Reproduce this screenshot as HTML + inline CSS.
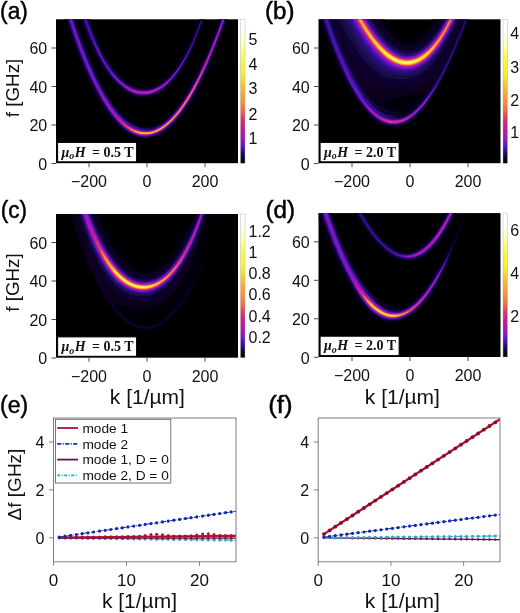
<!DOCTYPE html>
<html><head><meta charset="utf-8"><title>Figure</title><style>html,body{margin:0;padding:0;background:#fff}svg{display:block}</style></head><body>
<svg width="520" height="613" viewBox="0 0 520 613">
<defs><linearGradient id="cb" x1="0" y1="1" x2="0" y2="0"><stop offset="0.000" stop-color="#000000"/><stop offset="0.020" stop-color="#080418"/><stop offset="0.058" stop-color="#18084a"/><stop offset="0.095" stop-color="#3a10a0"/><stop offset="0.120" stop-color="#5a14c0"/><stop offset="0.150" stop-color="#8018c0"/><stop offset="0.180" stop-color="#a018b8"/><stop offset="0.220" stop-color="#b818a0"/><stop offset="0.257" stop-color="#c82088"/><stop offset="0.295" stop-color="#d03070"/><stop offset="0.330" stop-color="#e04860"/><stop offset="0.372" stop-color="#f07040"/><stop offset="0.428" stop-color="#f89038"/><stop offset="0.490" stop-color="#f8a838"/><stop offset="0.552" stop-color="#f8c830"/><stop offset="0.597" stop-color="#f8e030"/><stop offset="0.632" stop-color="#f8f030"/><stop offset="0.730" stop-color="#f8f850"/><stop offset="0.810" stop-color="#ffffa0"/><stop offset="0.900" stop-color="#fffff0"/><stop offset="1.000" stop-color="#ffffff"/></linearGradient><filter id="bl" x="-5%" y="-5%" width="110%" height="110%"><feGaussianBlur stdDeviation="0.55"/></filter></defs>
<rect width="520" height="613" fill="#fff"/>
<clipPath id="cpa"><rect x="56" y="19.3" width="182" height="143.89999999999998"/></clipPath>
<rect x="56" y="19.3" width="182" height="143.89999999999998" fill="#000"/>
<g clip-path="url(#cpa)"><g filter="url(#bl)">
<path fill="#060311" fill-rule="evenodd" d="M63.6,19.3l27.1,0 6,15.9 2.6,6.2 3.4,7.2 3.3,6.4 3.3,5.8 2.7,4.1 3.3,4.5 4,4.7 3.4,3.4 3.2,2.7 3,2 3.9,2 3.4,1.4 3.8,.9 4,.4 2.7-.1 3.1-.6 4.4-1.3 3-1.3 3.3-2.1 2.8-2 3.4-2.9 3.3-3.4 4.7-5.7 3.3-4.7 3.3-5.2 3.4-6 4-8 3.3-7.3 3.3-8.1 3.4-8.9 6.5,0 -6.8,18.7 -5.4,12.8 -3.2,6.7 -2.8,5.3 -2.7,4.7 -3.9,6 -3.4,4.7 -3.3,4 -3.7,4 -3.3,3 -4.7,3.5 -3.3,2 -4,1.8 -4,1.4 -4,.7 -3.4,.2 -4-.2 -4-.6 -4-1.4 -2.6-1.2 -4.7-2.8 -4-2.7 -4-3.4 -3-2.9 -4.7-5.4 -2.7-3.3 -3.9-5.4 -9-14.2 -1.4-1.6 -.1,.4 .1,1.2 2,6.2 3.4,8.6 3.3,7.7 4,7.9 4,7.2 4.7,7.5 4.6,6.6 4,4.6 4,4.1 3.1,2.7 3.9,2.6 5,2.7 3.5,1.3 3.2,.8 4,.4 3.8-.5 3.9-1.3 2.8-1.4 4.2-2.6 3.3-2.7 4-4 4-4.6 2.7-3.4 5.3-7.6 5.3-8.6 5.4-9.6 4.6-9.2 5.4-11.3 6.6-15.3 5.4-13.5 4.1-11.3 9.2,0 -5.7,16.1 -5.4,14 -5.2,12.7 -6.1,14.1 -5.2,10.7 -5.3,10 -4.8,8.1 -4.5,6.7 -5.6,7.3 -4.9,5.4 -5.3,5 -5.3,4 -4.7,2.7 -5.3,2.1 -6,1.4 -3.4,.5 -3.3,.1 -5.3-.8 -4-1.2 -4-2 -6-4 -3.4-2.9 -6.1-6.3 -5-6 -4.6-6.7 -6.6-10.7 -4.1-7.3 -5.1-10.1 -4.9-10.7 -5.4-12.7 -5.1-13.4 -4-11.4z"/>
<path fill="#09041b" fill-rule="evenodd" d="M65.3,19.3l10.3,0 5.1,14.9 5.3,14.6 5.3,13.4 4.7,10.8 4,8.5 6,10.9 5.3,8.6 4.7,6.5 3.3,4 4.6,4.8 3.1,2.7 3.6,2.7 3.5,2 4.5,2 2.2,.7 3.2,.6 3.3,.2 2.8-.1 4.8-1.4 3-1.3 4.4-2.7 3.5-2.7 3.5-3.4 4.7-5.2 3.3-4.2 4.7-6.6 5.3-8.5 5.4-9.5 6-11.8 5.3-11.3 6-13.8 5.3-13.5 4.5-11.9 7.3,0 -6,16.7 -5.4,14.1 -4.6,11.4 -6.2,14 -4.4,9.4 -4.9,9.4 -4.7,8 -5.2,8 -6.1,8.1 -4.8,5.3 -5.5,5.1 -4.6,3.4 -5.4,3.1 -5.3,2.1 -2.7,.6 -3.3,.6 -4.7,.3 -2.6-.2 -2.7-.4 -4.7-1.5 -4-1.9 -5.3-3.6 -4-3.4 -6.6-6.9 -3.8-4.7 -4.7-6.6 -6.5-10.8 -4.1-7.3 -4.7-9.4 -5.2-11.4 -4.8-11.3 -4.7-12.1 -5.3-14.7zM80.6,19.3l8.8,0 3.3,8.9 3.3,8.4 3.3,7.6 4,8.2 3.4,6.1 3.3,5.5 4,5.6 4.7,5.5 5.3,5.1 2.7,2 3.3,2 2.8,1.4 3.9,1.4 3.3,.8 4,.3 4-.4 3.8-.8 3.6-1.3 2.7-1.4 3.2-2 3.5-2.7 3.6-3.3 3.6-3.9 4-5 4-5.8 3.3-5.5 2.7-4.9 3.3-6.6 3.4-7.3 3.3-8 3.8-9.9 4.2,0 -7,19.4 -3.3,8 -3.4,7.4 -3.4,6.7 -3.8,6.7 -3.5,5.3 -3.8,5.4 -4,4.7 -3.8,3.8 -4,3.3 -4,2.7 -4,2.1 -4.7,1.7 -4,.8 -4,.3 -4-.2 -4-.8 -4-1.4 -4.6-2.4 -5.4-3.6 -4-3.4 -4.1-4.3 -4-4.6 -3.5-4.7 -4.1-6 -3.9-6.7 -3.5-6.7 -3.8-8.1 -3.4-8 -3.4-8.7z"/>
<path fill="#0d0528" fill-rule="evenodd" d="M66.2,19.3l8.4,0 4.7,14.1 5.4,14.5 5.3,13.4 5.3,12.2 4.7,9.7 4.7,8.5 5.3,8.6 4.7,6.7 3.3,4.1 4.3,4.6 4.4,4 2.7,2 4.5,2.7 4.7,2 2.3,.7 2.4,.4 3.4,.3 3.3-.2 2.5-.5 2.2-.7 4.4-2 4.3-2.7 3.3-2.7 4-3.9 4-4.6 3.3-4.2 4.7-6.7 5.3-8.6 5.3-9.4 6-11.8 5.4-11.3 5.3-12.1 6-15.1 4.5-12 5.8,0 -6,16.7 -4,10.7 -4.6,11.4 -5.9,14.1 -4.7,10 -4.8,9.4 -5.3,9.4 -4.7,7.3 -5.4,7.4 -5.1,6 -5.8,5.7 -5.3,4.1 -5.4,3.1 -5.3,2.1 -2.7,.7 -3.3,.6 -4,.2 -2,0 -3.3-.6 -4.7-1.4 -4.7-2.3 -4.6-3.1 -4.7-4 -5.5-5.8 -4.8-6 -4.6-6.7 -4.1-6.7 -6-10.7 -4.7-9.4 -4.6-10 -5.4-12.7 -4.6-12.1 -5.3-14.7zM81.7,19.3l6.9,0 3.4,9.2 3.3,8.4 4,9.1 3.4,6.7 3.3,6.1 4,6.5 4,5.5 3.3,3.9 3.4,3.5 3,2.7 2.7,2 3.3,2 4.4,2 3.9,1.2 3.3,.6 2.7,.1 4-.3 4-.9 3.6-1.4 2.7-1.3 4.2-2.7 3.4-2.7 3.4-3.2 3.4-3.7 4-5 3.3-4.8 4-6.6 3.3-6.2 3.4-6.8 3.3-7.4 4-9.9 2.4-6.6 2.9,0 -4.2,12 -3.3,8.7 -3.4,8.1 -2.8,6 -3.8,7.4 -3.5,6 -4,6 -3.4,4.7 -3.5,4 -3.4,3.5 -4,3.4 -4,2.8 -4,2.1 -5.3,2 -3.4,.6 -4,.2 -4-.2 -4-.8 -4.6-1.8 -4-2.1 -4.7-3.3 -4-3.3 -3.7-3.8 -4-4.6 -4-5.4 -4-6 -3.9-6.7 -3.4-6.7 -3.5-7.4 -3.1-7.3 -3.4-8.7z"/>
<path fill="#110636" fill-rule="evenodd" d="M66.9,19.3l7,0 4.8,14.1 5.3,14.5 6,14.9 4.7,10.5 5.3,11 4,7.2 5.3,8.7 4.7,6.6 4,5 4.3,4.5 3.7,3.4 4.6,3.3 3.7,2 5,2.1 3.4,.7 4.6,.3 3.4-.2 4.6-1.3 4.7-2.2 4.2-2.7 3.2-2.7 4.6-4.7 4-4.7 4-5.3 4.7-6.9 4.6-7.7 6-10.8 5.4-10.6 4.6-10 4.7-10.5 5.3-13.2 5.8-15.3 4.6,0 -6,16.7 -4,10.7 -7.3,18.1 -4.1,9.4 -4.8,10 -4.5,8.7 -4.6,8.1 -4.7,7.3 -5.4,7.4 -5.2,6 -5.1,5 -5.3,4.2 -5.4,3.1 -5.3,2.2 -5.3,1.2 -4.7,.3 -4-.4 -2.7-.6 -3.3-1.1 -4-2 -5.3-3.6 -4.7-4.1 -5.2-5.5 -3.8-4.7 -4.8-6.7 -4.5-7.4 -6-10.7 -4.7-9.4 -4.6-10 -4.8-11.4 -5.2-13.4 -4.8-13.3zM82.5,19.3l5.5,0 3.3,9.1 3.4,8.4 4,9 3.3,6.8 3.3,6.2 4,6.5 4,5.5 3.4,4 3.9,4.1 3,2.6 2.7,2.1 3.4,2 2.9,1.3 4.1,1.4 3.3,.8 4,.3 4-.4 3.6-.8 3.8-1.3 4-2 4-2.7 3.3-2.7 3.3-3.2 3.3-3.7 4-5.1 3.4-4.8 4-6.7 2.6-5 4-8.1 3.4-7.6 4-10 2.1-6 2.2,0 -6.6,18.1 -3.3,8 -3.4,7.4 -3.4,6.7 -3.4,6 -3.8,6 -3.3,4.7 -3.3,4 -4.5,4.7 -4,3.5 -4,2.8 -4,2.2 -4.7,1.8 -4,.8 -4,.3 -4-.3 -4-.8 -3.3-1.2 -4-2 -5.3-3.6 -4-3.3 -3.6-3.6 -4-4.6 -4-5.4 -4-6 -3.5-6 -3.9-7.4 -4-8.7 -3.4-8 -3.3-8.7z"/>
<path fill="#160845" fill-rule="evenodd" d="M67.5,19.3l5.9,0 5.3,15.4 4.6,12.7 5.4,13.3 4.6,10.7 4.7,9.8 4,7.5 5.3,9 5.4,7.9 4.6,6 4,4.3 3.4,3.1 5.3,4 3.6,2 4.8,2.1 4.3,1 4.6,.4 4.7-.4 4-1.2 4-2 4-2.5 4-3.4 3.3-3.3 4.7-5.4 4-5.3 5.3-7.9 5.4-8.9 5.3-9.7 5.3-10.5 4.7-10 4.7-10.6 6-14.9 4.9-13.2 3.6,0 -5.4,15.4 -4.1,10.7 -6.7,16.7 -4.6,10.7 -4.7,10.1 -4.8,9.4 -4.6,8 -5.1,8 -5.5,7.4 -5.2,6 -5.2,5 -5.3,4.1 -4.7,2.7 -4.6,2 -5.4,1.3 -5.3,.4 -4.7-.5 -4.6-1.3 -2.7-1.2 -2.7-1.5 -4.6-3.3 -4.7-4.2 -5.1-5.5 -3.8-4.7 -4.7-6.7 -4.1-6.7 -6.7-12 -4.7-9.4 -4.5-10 -4.8-11.4 -4.6-12.1 -5.3-14.7zM83,19.3l4.6,0 3.1,8.6 4,10 3.3,7.6 3.3,6.8 4,7.3 4,6.5 3.4,4.6 3.3,4 3.2,3.5 2.9,2.7 3.4,2.7 3.3,2 4.2,2 4,1.3 3.1,.7 3.9,.2 3.6-.2 3.3-.7 4.1-1.3 4.1-2 4.1-2.7 3.4-2.7 4.1-4 3.3-3.8 3.3-4.2 2.7-3.9 5.3-8.8 4.7-9.1 4.7-10.4 4-10 2.3-6.7 1.7,0 -2.3,6.7 -4,10.7 -3.3,8 -3.4,7.4 -2.7,5.4 -3.3,6 -4.6,7.3 -3.3,4.7 -3.2,4 -4.6,4.9 -4,3.5 -4,2.8 -4.7,2.5 -4,1.5 -3.3,.8 -4.7,.3 -4.6-.3 -3.4-.8 -4-1.5 -3.3-1.8 -5.3-3.6 -3.4-2.8 -3.5-3.5 -4.1-4.6 -4-5.4 -4-6 -2.8-4.7 -3.9-7.4 -3.3-6.7 -4-9.3 -3.4-8.7z"/>
<path fill="#200a5e" fill-rule="evenodd" d="M68,19.3l5,0 4.3,12.8 5.4,14.5 5.3,13.3 5.3,12.2 5.4,11 4.6,8.6 5.4,8.6 4.6,6.7 4.7,5.7 4.1,4.3 4.6,4 3.9,2.7 5.4,2.7 4,1.4 4,.9 5.3,.6 2.1-.2 2.3-.7 3.3-1.3 3.7-2.1 4.8-3.3 4.4-4 4.1-4.5 4-4.9 4-5.5 4.7-7.1 6-10.2 4.6-8.6 5.4-10.8 4.6-10 4-9.3 5.4-13.3 5.3-14.2 2.9,0 -4.5,12.7 -5.3,14.1 -6.8,16.7 -4.6,10.7 -4.8,10.1 -4.5,8.7 -4.1,7.3 -5.2,8 -4.8,6.7 -5.1,6.1 -5.2,5.2 -4.7,3.8 -5.3,3.4 -4.7,2.1 -4.6,1.3 -3.4,.5 -3.3,.2 -2-.1 -3.3-.6 -4-1.3 -4.7-2.3 -4.7-3.2 -4.9-4.4 -5.6-6 -3.7-4.7 -4.7-6.7 -4.8-8 -5.9-10.7 -4.6-9.4 -4.8-10.7 -4.7-11.3 -4.7-12.1 -5.2-14.7zM83.5,19.3l3.7,0 2.8,7.9 4,10.1 3.3,7.6 3.4,6.9 3.3,6.3 4,6.6 3.3,4.8 3.4,4.2 3.3,3.8 3.6,3.4 3.3,2.7 3.1,2 4,2 3.7,1.3 4.3,1 4,.3 4-.3 4.3-1 3.7-1.3 3.8-2 4-2.7 3.2-2.7 3.7-3.5 4-4.6 4-5.3 2.6-4 5.4-9.3 4-8 3.3-7.4 3.3-8.1 3.9-10.7 1.3,0 -3.5,10 -3.3,8.7 -4,9.4 -2.6,5.4 -2.7,5.3 -3.4,6 -4.7,7.4 -3.4,4.7 -3.9,4.7 -3.7,3.7 -4,3.4 -4,2.7 -4.6,2.4 -4,1.5 -4,.7 -3.4,.1 -4-.2 -4.6-1.1 -4-1.6 -3.4-1.9 -4.6-3.3 -3.4-2.8 -3.6-3.6 -4-4.7 -4-5.4 -4-6 -3.5-6 -3.1-6 -4.1-8.7 -3.4-8.1 -3.3-8.7z"/>
<path fill="#2c0d7d" fill-rule="evenodd" d="M68.4,19.3l4.3,0 5.3,15.5 4.7,12.6 4,10 4.6,10.9 4,8.7 4.7,9.2 5.3,9.3 5.3,8.1 4,5.4 3.9,4.7 4.8,4.8 4,3.3 5.4,3.3 4.6,2.1 2,.8 2,.4 .7,.4 1.4,.3 .3,.6 3.6,.3 3.2-.3 4.5-1.3 4.2-2 5.1-3.4 4.6-4 4.4-4.5 4.7-5.6 4-5.5 4.7-7 6-10.1 5.3-10 5.3-10.8 6.7-14.7 3.3-8.1 4.7-11.9 4.2-11.5 2.4,0 -4.2,12 -5.3,14.1 -6,14.7 -5.5,12.7 -4.4,9.4 -4.8,9.4 -4.6,8 -4.6,7.4 -4.8,6.7 -5.7,6.7 -4.7,4.7 -5.3,4.4 -5.4,3.2 -4.6,2.1 -5.4,1.3 -4.6,.4 -4.7-.4 -4.7-1.3 -4.6-2.2 -4.7-3.1 -4.7-4 -4.8-5.1 -5-6.1 -4.6-6.7 -4.5-7.3 -5.9-10.7 -5-10.1 -4.5-10 -4.8-11.4 -4.6-12 -4.5-12.7zM83.9,19.3l2.9,0 3.2,8.9 3.3,8.4 3.4,7.7 3.3,6.9 3.3,6.3 4,6.8 2.7,4 4.7,6 3.6,3.9 3.5,3.3 3.4,2.7 3.3,2 4.2,2 4,1.4 3,.6 4.3,.3 3.9-.3 3.2-.6 4.1-1.4 4.1-2 4.1-2.6 3.3-2.7 4-3.9 3.3-3.7 4-5.2 2.7-3.9 3.3-5.5 3.3-6 3.4-6.8 4.1-9.2 4-10 2.3-6.7 .3-.7 1,0 -6.1,16.7 -3.9,9.4 -3.5,7.4 -3.8,7.3 -2.7,4.7 -3.4,5.4 -3.8,5.3 -3.4,4 -4.5,4.7 -3.3,2.9 -4,2.9 -4.7,2.5 -4,1.5 -3.3,.8 -4.7,.3 -4.6-.4 -3.4-.7 -3.3-1.3 -4-2.1 -4.7-3.2 -4-3.3 -3.8-3.9 -3.9-4.7 -4-5.3 -3.9-6.1 -3.4-6 -3.1-6 -3.5-7.4 -3.4-8 -3.4-8.7z"/>
<path fill="#3a109f" fill-rule="evenodd" d="M68.8,19.3l3.6,0 4.8,14.1 4.7,12.7 5.3,13.4 4.1,9.3 4.7,10.1 4.5,8.7 4.6,8 4.8,7.4 3.9,5.3 4.4,5.4 5.1,5.1 4.7,3.8 4.7,2.8 3.6,1.7 .4,.3 1.3,.3 .7,.7 .3,0 -.4,.7 2.2,.6 3.2,.6 2.7,.2 2-.2 3.3-.6 3.9-1.3 4-2 4-2.7 4.1-3.3 4.7-4.7 4.6-5.5 5.4-7.2 4-6 5.3-9 4.7-8.5 3.3-6.5 4.7-9.7 5.3-11.9 6.7-16.6 5.7-15.5 2.1,0 -6,16.7 -4.7,12.1 -6,14.7 -4.8,10.7 -4.8,10.1 -4.5,8.7 -4.6,8 -4.8,7.3 -5.4,7.4 -4.6,5.4 -5,4.9 -5.3,4.3 -5.3,3.1 -4.7,2 -2.7,.7 -2.6,.5 -4,.3 -4-.2 -2.7-.6 -3.3-1.1 -2-1 -3.4-1.9 -4.6-3.4 -4.7-4.3 -4.9-5.3 -4.2-5.4 -4.5-6.7 -4.1-6.7 -6.5-12 -4.3-8.7 -4.5-10.1 -4.7-11.3 -4.6-12.1 -4.7-13.4zM84.3,19.3l2.1,0 3.4,9.4 2.9,7.1 3.2,7.6 3.4,7.2 3.3,6.2 3.4,5.9 4,6.1 2.7,3.5 3.3,3.9 3.9,4 4,3.4 2.9,2 5.2,2.6 3.7,1.4 2.5,.6 4.5,.6 4-.1 2.7-.5 2.8-.6 3.7-1.4 2.7-1.3 3.3-2 3.6-2.7 3.8-3.5 4-4.3 3.4-4.2 3.3-4.6 3.4-5.5 2.6-4.7 5.4-10.7 5.5-12.7 2.2-6 .2-.5 .3-.2 .4-1.6 .3,.3 -.2,1.3 -.4,.7 -.8,2.7 -.4,.6 -.3,1.4 -.4,.6 -2.2,6.1 -4,9.3 -3.9,8.1 -2.8,5.3 -3.9,6.7 -4.1,6 -3.1,4.1 -3.4,4 -3.7,3.6 -4,3.3 -4,2.7 -4,2 -4,1.4 -4,.8 -4.7,.1 -3.3-.4 -4-.9 -4-1.7 -3.4-1.9 -4.6-3.3 -4-3.6 -4.6-4.8 -3.2-4 -3.8-5.4 -3.4-5.3 -3.4-6 -3.1-6.1 -3.4-7.3 -3.4-8.1 -3.3-8.7zM201.3,20l.4,0 -.4,1.8 -.3-.5zM201.7,19.3l.5,0 -.2,.6zM200.6,22l.1-.2 .3,.2 -.3,1.7 -.4-.4z"/>
<path fill="#4d12b3" fill-rule="evenodd" d="M69.1,19.3l3,0 4.4,12.7 4.6,12.7 5.3,13.4 4.6,10.7 4,8.7 4.8,9.4 4.6,8 6,9.4 4,5.4 3.3,4 5,5 2.8,2.3 -.2,.7 .7-.1 .2,.1 -.3,.7 1.2,0 -.4,.3 -.1,.3 .8,.7 .6,.3 .7-.4 .3,.1 -.6,.7 .9,.6 3.5,2.1 4.4,2 2,.6 3.1,.7 4.4,.3 3.7-.3 4.6-1.3 4.3-2 5-3.4 4.8-4 4.2-4.4 5.4-6.3 4-5.5 4-6.1 4.6-7.7 4.7-8.4 4.7-9.1 6-12.8 4.6-10.8 7.4-18.6 3.6-10 .3-.7 1.8,0 -5.3,14.7 -4.7,12.1 -6,14.7 -4.7,10.7 -4.7,10 -5.2,10.1 -4.2,7.3 -5.1,8.1 -4.9,6.7 -4.4,5.3 -5.9,5.9 -4.6,3.9 -5.4,3.3 -4.6,2.1 -5.4,1.3 -4.6,.5 -2.7-.1 -2-.3 -4.7-1.4 -4.6-2.3 -4.7-3.2 -5.3-4.6 -5.2-5.7 -3.8-4.7 -4.6-6.7 -4.8-8.1 -5.8-10.7 -4.3-8.7 -4.5-10 -4.8-11.4 -4.6-12 -4.5-12.7zM84.7,19.3l1.3,0 2.4,6.7 4,10 4.1,9.4 3.3,6.7 4.7,8.7 3.4,5.4 2.8,3.9 3.2,4.1 3,3.3 3.4,3.4 3.2,2.7 2.8,2 3.6,2 3.1,1.3 4.3,1.4 3.4,.6 4.6,.1 2.7-.3 5-1.1 3.4-1.4 3.8-2 3-2 3.4-2.7 2.8-2.6 3.3-3.5 2.7-3.2 3.9-5.4 3.5-5.3 3.4-6.1 6.1-12 .4-1.1 .3-.2 .3-1.3 .3,.6 -2.2,5.3 -3.2,6.7 -2.7,5.4 -3.9,6.7 -3.9,6 -3.5,4.7 -4.1,4.7 -2.8,2.7 -3.3,2.9 -4.7,3.3 -4,2.2 -3.3,1.3 -2.7,.7 -4.6,.6 -3.4-.1 -4-.6 -4-1.2 -3.3-1.5 -3.3-2 -4.7-3.5 -3.3-3 -3.7-3.8 -3.2-4 -3.4-4.7 -2.7-4 -3.2-5.4 -3.3-6 -3.2-6.7 -6-14.1zM201.3,20.6l0-.2 0,1zM200.6,22.6l.1-.3 0,.9zM199.9,24.7l.1-.5 0,.8zM198.6,28l.1-.3 .1,.3 -.1,.8zM197.8,30l.2-.5 .2,.5 -.2,.6zM197.2,31.3l.1-.1 .2,.1 -.2,1.1 -.1-.4zM196.5,33.4l.2-.5 .2,.5 -.2,.7zM195.9,34.7l.1-.2 .2,.2 -.2,1.1 -.2-.4zM195.1,36.7l.2-.6 .3,.6 -.3,.8 -.2-.1zM194.5,38l.2-.3 .2,.3 -.2,1.1 -.3-.4zM193.9,39.4l.1-.2 .3,.2 -.3,1.4 -.3-.1zM127.5,123l.6,0 -.1,.3zM129.6,124.4l.6,0 -.2,.2zM130.7,125l.7,0 -.1,.2z"/>
<path fill="#6315c0" fill-rule="evenodd" d="M69.5,19.3l2.3,0 .2,.5 4.4,12.9 7.2,19.4 6.7,16.1 3.9,8.7 .5,.6 .2,.7 .4,.6 .2,.7 .5,.7 .1,.7 .5,.6 .2,.7 2.4,4.7 .2,.7 .5,.6 .1,.7 1.7,2.7 .3,.7 .6,.6 1.4,2.7 .6,.7 .2,.6 1,1.4 .2,.7 5.3,8.1 3.4,4.6 3.3,4 4.7,4.7 4.9,4 4.3,2.7 4.3,2 4.4,1.3 5.4,.6 2.7-.1 2.9-.5 4.1-1.3 4-2 5-3.4 4-3.3 4.6-4.7 4-4.7 6-8.1 4-6.1 4.7-7.8 4-7.3 4.7-9.1 4.6-9.9 6.7-15.4 6-15.2 4.4-12.1 .3-.7 1.5,0 -3.8,10.7 -5.3,14.1 -6,14.7 -4.6,10.7 -5.4,11.4 -4.8,9.3 -4.5,8.1 -6,9.3 -5.5,7.4 -4.6,5.4 -4.4,4.2 -5.3,4.3 -5.3,3.3 -4.7,1.9 -5.3,1.3 -4,.3 -4-.3 -2.7-.6 -2.7-.8 -2.6-1.2 -2.7-1.6 -4.7-3.3 -4.6-4.2 -4.9-5.3 -4.7-6.1 -4.1-6 -4.1-6.7 -6.4-12 -4.6-9.4 -4.2-9.4 -4.4-10.7 -4.6-12.1 -4.8-13.3zM87.9,26.7l.1-.4 0,.9zM88.6,28l.2,.7 -.1,.4zM89.2,30l.1-.3 .2,1 -.2,.2zM89.9,31.3l.1,0 .2,.7 0,.7 -.2,.1zM90.4,33.4l.3-.4 .2,1 -.2,.5zM91,34.7l.3-.2 1.1,2.9 .3,.3 .3,1 2.7,6 6.1,12.1 5.3,8.7 2.7,4 2.6,3.3 3.5,4.1 2.6,2.6 5.5,4.8 1.9,1.3 3.5,2 3,1.3 3.9,1.3 2.9,.7 2.8,.3 2.7,.1 3.6-.4 3.1-.7 4-1.3 2.8-1.3 3.4-2 3.7-2.7 2.3-2 5.8-6 2.7-3.4 3.5-4.7 4.6-7.3 1.1-2.2 .6,.2 -4.5,8 -2.6,4 -3.8,5.4 -3.3,4 -3,3.2 -3.4,3.1 -3.3,2.7 -3.3,2.1 -2.7,1.4 -2.7,1.2 -4,1.2 -2.6,.4 -4,.2 -3.4-.3 -3.3-.7 -2.7-.9 -4-1.9 -3.3-2.2 -2.7-1.9 -5.4-5 -5.3-6 -3.4-4.7 -3.2-4.8 -5.3-9.2 -3.4-6.7 -3.3-7.3 -2-4.9 -.3-1.2 -.4-.5zM193.9,40l.1-.1 0,.3zM193.3,41.4l0-.1 0,.4zM191.9,44.7l.1-.5 0,.7zM191.2,46.1l.1-.4 0,.7zM190.5,47.4l.2-.3 .1,.3 -.1,.5zM189.9,48.7l.1-.3 .2,.3 -.2,.7zM189.2,50.1l.1-.3 .2,.3 -.2,.7zM188.5,51.4l.2-.3 .2,.3 -.2,.8 -.2-.1zM187.8,52.8l.2-.4 .2,.4 -.2,.7 -.2-.1zM187.1,54.1l.2-.4 .3,.4 -.3,.8 -.3-.1zM186.4,55.4l.3-.5 .2,.5 -.2,.7 -.6,0zM185.7,56.8l.3-.7 .3,.7 -.3,.6z"/>
<path fill="#7b17c0" fill-rule="evenodd" d="M70.2,19.3l.8,0 6.4,18.1 5.3,14 4,10 5.3,12.4 4,8.4 4,7.9 5.3,8.9 4,6.1 5.4,7.2 3.3,3.9 5,4.8 5,4 4.5,2.7 4.7,2 2.2,.7 3.6,.7 3,.2 3.4-.2 3.1-.7 2.1-.7 4.4-2 4.3-2.7 4.2-3.3 5.2-5 6-7 4-5.5 4-6 6-10 4.6-8.7 4-7.9 5.4-11.5 6-14.1 6-15.4 4.1-11.3 1.2,0 -4.9,14.1 -4.6,12 -6.1,14.7 -4.7,10.7 -4.7,10.1 -5.2,10 -4.6,8 -4.8,7.4 -4.8,6.7 -4.4,5.4 -5.9,5.9 -4.6,3.9 -4,2.6 -5.4,2.6 -4.6,1.4 -3.4,.6 -2.6,.1 -2.7-.1 -2.7-.5 -4.6-1.4 -4-2.1 -4.7-3.2 -4.7-4.1 -5.2-5.7 -3.8-4.7 -4.6-6.7 -4.5-7.4 -5.9-11 -4.6-9.5 -4.1-8.9 -4.6-11.2 -4.7-12.3 -5.3-15.2zM183.2,61.5l.1-.2 0,.4zM182.5,62.8l.2-.4 .1,.4 -.1,.2zM181.9,63.5l.2,0 -.1,.7zM181.2,64.8l.1-.3 .2,.3 -.2,.3zM180.6,65.5l.2,0 -.1,.8 -.3-.1zM107.2,66.8l.1-.1 0,.4zM179.8,66.8l.2-.3 .2,.3 -.2,.5zM179.3,67.5l.4,0 -.4,.9 -.3-.2zM107.9,68.2l.1-.5 .1,.5 -.1,.1zM108.5,68.8l.2-.2 0,.6zM178.4,68.8l.3-.4 .3,.4 -2.2,3.4 -4.7,6 -4.8,5 -4.6,3.9 -5.4,3.5 -4.6,2 -2,.7 -2.7,.5 -3.3,.4 -4.7-.2 -4-.8 -4.7-1.8 -4-2.3 -5.3-4 -3.8-3.6 -4.2-4.7 -2-2.6 -1.7-2.7 .4-.3 4.2,5 5.1,5.1 3.6,2.9 3.1,2.1 5.1,2.6 3.8,1.3 4.4,1 4.7,.3 4.7-.6 4.8-1.3 4.4-2 3.3-2 3.6-2.7 4.5-4.1 4.2-4.6zM109.1,69.5l.2,0 .3,.7 -.3,.1zM109.8,70.8l.2-.3 .2,.3 -.2,.4z"/>
<path fill="#9318bb" fill-rule="evenodd" d="M222.9,19.3l1,0 -.1,.7 -8.1,22.1 -7.9,19.4 -4.8,10.7 -3.8,8 -6.7,12.7 -6,10.1 -6.1,8.7 -2.6,3.3 -4.7,5.4 -3.8,3.7 -4,3.4 -2.6,1.9 -3.4,2 -3.3,1.5 -3.3,1.2 -3.4,.8 -3.3,.4 -2.7,0 -3.3-.4 -2.7-.7 -3.3-1.3 -2.7-1.3 -3.3-2.2 -3.3-2.6 -2.7-2.4 -5-5.4 -3.3-4 -3.9-5.3 -2.7-4.1 -5.8-10.1 -8-16 .7-.1 3,6.2 3.3,6 6.3,10 4.7,6.7 4,5.2 2.7,3.1 4.6,4.4 4,3.4 3,2 3.7,2 5.2,2 3,.7 4.5,.4 4-.3 3.3-.8 3.5-1.3 3.8-2 3.9-2.7 4.8-4 3.4-3.4 4.6-5.4 4-5.2 3.4-4.8 4.6-7.4 5.4-9.3 3.3-6.4 4.7-9.5 4.6-10.1 7.4-17.6zM177.3,70.8l0-.1 0,.2zM89.9,71.5l.1-.5 0,.9zM176.6,71.5l.2,0 -.1,.2zM90.5,72.8l.2-.4 0,1.2zM175.8,72.8l.2-.4 .1,.4zM175.1,73.5l.2-.3 .2,.3 -.2,.3zM91.2,74.2l.1-.3 .3,1 -.3,.1zM174.5,74.2l.2-.3 .2,.3 -.2,.4zM173.9,74.9l.1-.2 .4,.2 -.3,.6 -4.7,5.4 -4.2,4 -3.9,3 -3.3,2.1 -4,1.9 -4,1.4 -4,.6 -4,.1 -4-.6 -3.3-.8 -3.4-1.5 -3.3-1.8 -4.2-3.1 -3.8-3.3 -3.1-3.4 .4-.2 4.7,4 3.3,2.5 3.4,1.9 2.6,1.2 3.7,1.3 3.7,1 3.3,.4 4,0 4.2-.7 2.5-.7 3.6-1.3 3.7-1.9 4-2.7 3.3-2.7 3.6-3.4zM91.8,75.5l.2-.2 .3,.9 -.3,.3zM92.4,76.9l.3-.2 .2,.8 -.2,.5zM115.2,77.5l.1-.1 .2,.1zM92.9,78.2l.4-.2 .3,.9 -.3,.6zM115.8,78.2l.2-.2 .2,.2 -.2,.2zM116.4,78.9l.3-.3 .2,.3 -.2,.4z"/>
<path fill="#a918af" fill-rule="evenodd" d="M223,19.3l.8,0 -.2,.7 -5.3,14.7 -4.6,12 -8.7,20.8 -6.6,14 -6.1,11.4 -3.9,6.7 -3.4,5.4 -5.3,7.3 -3.2,4 -4.2,4.7 -6.3,5.7 -2.7,2 -3.3,2.1 -2.7,1.4 -3.3,1.3 -4.7,1.2 -2.6,.3 -3.4,0 -2.6-.2 -2.7-.6 -4-1.5 -2.7-1.4 -2.6-1.7 -4-3.1 -2.7-2.4 -5.3-5.7 -4.2-5.4 -4.6-6.7 -3.9-6.7 .7-.1 5.2,7.5 4.1,5.3 4,4.7 3.5,3.4 3.8,3.3 3.9,2.7 3.6,2 4.9,2 2.6,.7 5.7,.6 4-.3 3.9-1 4.7-2 3.4-2 5.3-4 4.7-4.5 2.7-2.9 3.3-4 4-5.3 3.3-4.9 5.4-8.6 7.3-13.4 6.7-13.8 5.4-12.2 8-20.1zM170.6,78.9l.2,0 -.1,.1zM169.9,79.5l.1-.1 .2,.1 -.2,.3zM169.2,80.2l.1-.2 .3,.2 -.3,.3zM168.5,80.9l.2-.2 .3,.2 -.3,.3zM167.7,81.5l.3-.2 .4,.2 -.4,.4zM167,82.2l.3-.3 .4,.3 -4.4,4 -5.3,3.6 -2.7,1.4 -3.3,1.3 -2.7,.7 -3.3,.5 -4.7,0 -3.3-.5 -2.7-.7 -3.3-1.3 -2.7-1.4 -2.3-1.6 -2.6-2 .3-.3 .6,.2 6,3.1 5.4,1.8 4.6,.8 5.4-.1 4.3-.8 2.3-.6 3.4-1.4 4.6-2.5zM123,84.9l.4,0 -.1,.2zM123.7,85.6l.3-.2 .3,.2 -.3,.2zM103.8,98.9l.2-.4 .2,.4 -.2,.7z"/>
<path fill="#bc1a9a" fill-rule="evenodd" d="M223.1,19.3l.5,0 -.3,1.1 -.2-.4zM222.7,20.6l.2,.7 -.2,1 -.3-.3zM221.9,22.6l.1-.1 .2,.1 .1,.7 -.3,.8 -.2-.1 -.1-.7zM221.2,24.7l.1-.4 .3,.4 -.3,1.3 -.3-.7zM220.4,26.7l.3-.6 .3,.6 -.3,1.1 -.3-.5zM219.9,28l.4,0 0,.7 -.3,1 -.3-.4zM219.2,30l.1-.3 .4,.3 -.3,1.3 -.4,.7 -.3,1.3 -.2,.1 -.3,1.3 -.5,.7 -.3,1.3 -.9,2 -1.6,4.7 -.4,.7 -.9,2.6 -.4,.7 -4.3,10.7 -6.5,14.7 -8,16.1 -6.6,11.4 -3.4,5.3 -3.3,4.7 -6,7.4 -5.8,5.9 -2.6,2.4 -4,2.9 -3.4,2 -2.6,1.4 -3.4,1.2 -2.6,.7 -3.4,.6 -3.3,.1 -2-.1 -3.3-.7 -4-1.3 -2.7-1.4 -3.3-2.1 -2.7-2 -5.4-4.9 -6.6-7.9 -3.3-4.7 -.3-.8 .3-.2 4.5,5.5 3,3.4 4.3,4 3.3,2.7 2.9,2 3.6,2 2.9,1.3 4.1,1.4 3.6,.6 4.4,.2 2.7-.3 4.5-1.2 3.2-1.3 3.6-2 4.7-3.4 3.7-3.3 6.3-6.7 3.3-4.1 3.4-4.6 5.3-8.1 7.3-12.7 7.4-14.7 6.1-13.4 5.3-12.7 1.7-4.7 .5-.7 .8-2.6 .5-.7 .8-2.7 .3-.5 .3-.2zM163.1,85.6l.4,0 -.2,.1zM162,86.2l.7-.2 .1,.2 -2.8,2.1 -4.7,2.6 -4.6,1.8 -2,.4 -2.7,.3 -2.7,.1 -2.6-.1 -4.7-.9 -4-1.6 -3.4-2 .1-.3 .6,.1 4.7,1.8 4.7,1.2 4,.4 3.3-.1 2.7-.3 2.6-.6 4-1.3 4-1.9zM109.9,108.3l.1-.2 .2,.2 -.2,.3z"/>
<path fill="#cb277e" fill-rule="evenodd" d="M222.6,21.3l.1-.1 0,.4zM221.9,23.3l.1-.3 0,.6zM221.3,25.3l0-.5 0,.7zM220.6,26.7l.1-.2 0,.9zM219.9,28.7l.1-.3 0,.8zM219.2,30.7l.1-.6 0,.9zM218.6,32l.1-.1 0,1zM217.9,34l.1-.3 .2,.3 -.2,.7zM217.3,35.4l.2,.6 -.2,.4 -.1-.4zM216.5,37.4l.2-.3 .1,.3 -.1,.8zM215.8,39.4l.2-.6 .2,.6 -.2,.6zM215.2,40.7l.1-.2 .2,.2 -.2,1 -.2-.3zM214.5,42.7l.2-.5 .2,.5 -.2,.8zM213.9,44.1l.1-.3 .2,.3 -.2,1 -.2-.4zM213.1,46.1l.2-.6 .3,.6 -.3,.8zM212.5,47.4l.2-.3 .2,.3 -.2,1.1 -.3-.4zM212,48.7l.3,.7 -.3,.8 -.2-.1 0-.7zM211.1,50.8l.2-.4 .3,.4 -.3,1 -.2-.4zM210.6,52.1l.1-.2 .2,.2 0,.7 -.2,.7 -.3-.7zM209.8,54.1l.2-.5 .3,.5 -.3,1 -.3-.3zM209.1,55.4l.2-.3 .4,.3 -.1,.7 -.3,.6 -.2,.1 -.3,1.3 -1,2 -.2,.7 -1.4,3.3 -5.2,11.4 -6,12.1 -3.3,6 -4,6.7 -4,6 -3.3,4.7 -5.5,6.7 -5.6,5.7 -4,3.4 -2,1.5 -5.3,3.1 -5.3,2.1 -2.7,.7 -4,.4 -2.7,0 -3.3-.4 -4.7-1.4 -2.6-1.3 -3.4-2 -5.6-4.5 -2.7-2.6 -2.2-2.7 -.4-.7 .3-.2 7.6,6.2 5.4,3.4 4.6,2 5,1.3 4.7,.4 4.5-.4 2.6-.6 3.6-1.4 2.7-1.3 3.3-2 2.7-2 3.2-2.7 4.7-4.7 4-4.6 2.7-3.4 6-8.7 5.3-8.7 6.7-12.3 6.1-12.5 3-6.7 .5-.6zM154.9,90.2l1.1,0 -.7,.2zM133.1,90.9l1.3,0 -.4,.2zM152.9,90.9l1.1-.2 .6,.2 -1.3,.3 -.3,.4 -2.3,.8 -2.7,.5 -2.7,.3 -5.8-.3 -3.1-.6 -.4-.3 -1.6-.4 .3-.4 2.1,.4 .5,.3 4,.5 3.4,.1 4.6-.6 3.4-.8zM117.9,118.4l.2,0 -.1,.1z"/>
<path fill="#db4165" fill-rule="evenodd" d="M211.9,49.4l.1-.2 0,.4zM210.6,52.8l.1-.3 0,.5zM209.9,54.1l.1-.2 0,.7zM208.5,57.5l.2-.5 .1,.5 -.1,.4zM207.9,58.8l.1-.3 .2,.3 -.2,.7zM207.2,60.1l.1-.1 .2,.1 -.2,1 -.2-.3zM206.7,61.5l.2,.6 -.2,.5 -.3-.5zM205.8,63.5l.2-.5 .2,.5 -.2,.7zM205.1,64.8l.2-.4 .3,.4 -.3,.9 -.2-.2zM204.5,66.2l.2-.4 .2,.4 -.2,1 -.3-.4zM203.9,67.5l.1-.2 .3,.2 -.3,1.2 -.3-.5zM203.3,68.8l0-.1 .4,.1 -.4,1.4 -3,6.7 -4,8 -5.9,10.7 -5.5,8.7 -5.2,7.4 -6.2,7.3 -4.2,4.2 -3.3,2.9 -2.7,2 -3.3,2.1 -2.7,1.4 -4.6,1.7 -4.7,1 -3.3,.1 -2.7-.1 -4-.8 -2-.7 -4-1.9 -2.7-1.7 -2.8-2.1 -2.3-2.1 -1.9-2 .4-.2 5.3,3.8 3.2,1.8 2.8,1.3 3.6,1.4 2.6,.6 3.8,.5 2,.1 2.7-.2 2.6-.4 2.4-.6 4.8-2 3.4-2 5.4-4.1 4.7-4.4 2.7-2.9 3.3-4 4.1-5.4 6.6-10 4.7-8.1 6.7-12.7zM121.8,122.4l.3,0 -.1,.2z"/>
<path fill="#f07040" fill-rule="evenodd" d="M203.9,68.2l.1-.5 0,.7zM203.2,69.5l.1-.4 .2,.4 -.2,.3zM202.5,70.8l.2-.3 .1,.3 -.1,.5zM201.8,72.2l.2-.4 .2,.4 -.2,.6zM201.2,73.5l.1-.3 .2,.3 -.2,.7zM200.5,74.9l.2-.4 .2,.4 -.2,.7 -.2-.1zM199.8,76.2l.2-.3 .2,.3 -.2,.8 -.2-.1zM199.1,77.5l.2-.3 .3,.3 -.3,.9 -.2-.2zM198.5,78.9l.2-.4 .3,.4 -.3,.9 -.3-.3zM197.8,80.2l.2-.4 .3,.4 -.3,.9 -.3-.2zM197.1,81.5l.2-.4 .4,.4 -.2,.7 -6.5,12.1 -5.3,8.7 -4.7,6.7 -4.7,6 -5,5.4 -4.6,4.3 -4.7,3.4 -4.7,2.6 -3.3,1.4 -2,.6 -4,.7 -4.7,.1 -2-.2 -2.6-.5 -4-1.5 -4-2.2 -3.6-2.7 .2-.4 .7,.2 5.5,2.8 3.8,1.5 2,.6 4,.6 2.7,.1 3.3-.3 2.7-.5 2.2-.6 4.5-2 3.5-2 4.5-3.4 3.7-3.3 5-5.4 3.4-4 3.9-5.4 4.1-6 6-10 3.2-5.9 .2-.1 .2-.7 .6-.7zM126.4,126.4l.3-.2 .3,.2 -.3,.2z"/>
<path fill="#f89138" fill-rule="evenodd" d="M197.9,80.2l.2,0 -.1,.5zM197.2,81.5l.1-.1 .2,.1 -.2,.6zM196.5,82.9l.2-.2 .1,.2 -.1,.5zM195.8,84.2l.2-.3 .2,.3 -.2,.5zM195.1,85.6l.2-.4 .2,.4 -.2,.4zM194.4,86.9l.3-.5 .2,.5 -.2,.4zM194,87.6l.2,.6 -.2,.3 -.2-.3zM193.2,88.9l.1-.2 .3,.2 -.3,.9 -.2-.2zM192.5,90.2l.2-.3 .2,.3 -.2,.8 -.3-.1zM191.7,91.6l.3-.5 .3,.5 -.3,.6zM191.3,92.3l.2,0 .1,.6 -.3,.5 -.3-.5zM190.5,93.6l.2-.2 .3,.2 -.1,.7 -5.4,8.7 -4.6,6.7 -4.8,6 -4.1,4.5 -4,3.8 -4,3.3 -3.3,2.1 -3.4,1.8 -4,1.6 -2,.6 -3.3,.6 -3.3,.1 -3.4-.3 -4.6-1.2 -3.4-1.5 -3.2-2 .6-.3 4,1.7 4,1.3 4,.7 3.3,.2 3.3-.3 3.2-.7 3.5-1.2 4-1.9 3.3-2.1 4.4-3.5 4.3-4.1 4.2-4.6 3.3-4 3.4-4.7 5.4-8 .2-.7 1.8-2.6zM129.3,128.4l.7,0 0,.4z"/>
<path fill="#f8ab37" fill-rule="evenodd" d="M191.9,91.6l.1-.2 0,.4zM191.2,92.9l.1-.3 0,.5zM190.6,94.3l.1-.7 0,.7zM189.9,94.9l.1-.1 .2,.1 -.2,.4zM189.2,96.3l.1-.4 .2,.4 -.2,.2zM188.7,96.9l0,.8 -.2-.1zM187.9,98.3l.1-.2 .2,.2 -.2,.4zM187.1,99.6l.2-.4 .2,.4 -.2,.2zM186.6,100.3l.1-.2 .1,.2 -.1,.6zM185.8,101.6l.2-.3 .2,.3 -.2,.3zM185.2,102.3l.3,0 -.2,.7zM184.5,103.6l.2-.3 .2,.3 -.2,.3zM183.9,104.3l.1-.1 .2,.1 -.2,.7zM183.1,105.6l.2-.4 .2,.4 -.2,.3zM182.5,106.3l.2-.2 .2,.2 -.2,.6zM181.7,107.6l.3-.5 .2,.5 -.2,.3zM181.1,108.3l.2-.3 .3,.3 -.3,.4zM180.6,109l.1-.2 .2,.2 -.2,.7 -.3,0zM179.7,110.3l.3-.5 .2,.5 -.2,.3zM179.1,111l.2-.3 .3,.3 -.3,.4zM178.5,111.7l.2-.2 .3,.2 -.3,.6 -.7,.9 -.4-.2zM177,113.7l.3-.5 .3,.5 -.3,.3zM176.4,114.3l.3-.3 .3,.3 -.3,.4zM175.8,115l.2-.2 .4,.2 -.4,.6zM175.2,115.7l.1-.2 .5,.2 -1.8,2.2 -.6-.2zM172.8,118.4l.5-.6 .3,.6 -2,2 -3.6,3.5 -3.3,2.7 -5.4,3.4 -2.6,1.4 -3.4,1.2 -2.6,.7 -2.7,.5 -4.7,.1 -4.5-.8 -2.1-.7 -2.9-1.3 .2-.5 4.7,1.4 3.3,.6 3.3,.2 4.7-.3 4.7-1.2 3.3-1.5 5.3-3.1 2.7-2 3.3-2.9zM132.6,130.4l.7-.1 .5,.1 -.5,.2z"/>
<path fill="#f8d230" fill-rule="evenodd" d="M171.9,119.7l.1-.1 .1,.1zM171.2,120.4l.1-.2 .1,.2zM170.5,121l.2-.1 .1,.1zM169.8,121.7l.2-.1 .1,.1zM169.2,122.4l.1-.2 .1,.2zM166.6,124.4l.3,0 -.2,.2zM165.8,125l.2-.1 .2,.1 -.2,.2zM165,125.7l.3-.2 .2,.2zM163.9,126.4l.7,0 -.6,.2zM163,127.1l.3-.2 .3,.2 -.3,.1zM161.9,127.7l.8-.2 .1,.2 -.8,.2zM160.9,128.4l.4-.2 .4,.2 -.4,.2zM159.7,129.1l.3-.2 .7,0 0,.2 -.7,.2zM158.4,129.7l.9-.2 .2,.2 -.8,.3zM157.1,130.4l.9-.2 .3,.2 -1,.3zM155.5,131.1l1.2-.3 .2,.3 -.9,.2zM153.6,131.7l1.1-.2 .6,.2 -1.3,.3zM137.5,132.4l1.2-.1 1,.1 .3,.3 5.3,.3 5.4-.3 .3-.3 1.7-.3 .6,0 .2,.3 -2.2,.4 -.2,.3 -.4,.1 -5.4,.6 -5.3-.6 -.4-.1 -.3-.4z"/>
</g></g>
<clipPath id="cpb"><rect x="318.5" y="19.3" width="182.0" height="143.89999999999998"/></clipPath>
<rect x="318.5" y="19.3" width="182.0" height="143.89999999999998" fill="#000"/>
<g clip-path="url(#cpb)"><g filter="url(#bl)">
<path fill="#060311" fill-rule="evenodd" d="M318.9,19.3l65.9,0 3,4.4 3.4,4.2 3,3.4 3,2.7 2.6,2 2.7,1.4 2.7,.9 2.6,.3 3.4-.3 2.6-.8 2.9-1.5 2.8-2 3-2.6 3.3-3.7 3.4-4.1 3-4.3 37.5,0 -6.2,16.1 -4.6,11.3 -4.6,10.8 -5,10.7 -5.7,11.3 -6.2,11.4 -4,6.7 -4,6 -4.6,6.1 -4.3,4.7 -4.7,4.3 -4.6,3.4 -4.7,2.7 -4.7,1.9 -2.6,.8 -2.7,.4 -4,.3 -2.7-.1 -2.6-.5 -4.7-1.5 -5.3-2.7 -4-2.7 -4.7-4.1 -5.8-6.3 -3.9-4.7 -3.9-5.3 -3.4-5.4 -4.7-8 -4.5-8.7 -4.8-10 -5.4-12.8 -4.5-11.3 -3.5-9.4z"/>
<path fill="#09041b" fill-rule="evenodd" d="M320.6,19.3l59.1,0 4.1,6.2 3.4,4.4 4,4.7 3.4,3.4 3.5,2.7 3.5,2 2.9,1 3.3,.5 3.4-.3 3.3-.9 3.3-1.7 4-2.9 4-3.7 4-4.5 4-5.3 3.7-5.6 30.8,0 -10.1,26.1 -4.6,10.7 -4.9,10.7 -4.6,9.4 -7.1,13.4 -4.3,7.3 -4,6.1 -4,5.3 -4.2,4.7 -4.7,4.5 -4,3 -4.6,2.9 -4.7,2.1 -4.7,1.2 -4.6,.4 -4-.3 -2.7-.6 -2.7-.8 -5.3-2.6 -4-2.7 -4-3.3 -3.7-3.8 -5.2-6 -5.4-7.4 -4.7-7.3 -3.4-6.1 -4.5-8.7 -4.7-10 -5.4-12.7 -4-10.1 -4.7-12.7zM420.5,93.6l-13.3,1.9 -6,1.2 -6.2,1.6 -7.2,2.1 -3,1.2 -1.1,.7 -.6,.7 -.3,.6 0,.7 .7,1.3 1.2,1.4 1.9,1.3 2.7,1.4 1.9,.6 3.1,.7 6.2,.1 .7,.3 .1,.3 -1.5,1 -2.3,1 -.4,.6 1.4,.2 2.7-.1 3.8-.7 3.4-2 3.5-2.7 3.9-4 2.7-3.3 2.7-4.1 .6-1.3 .4-1.4 0-.6 -.4-.6z"/>
<path fill="#0d0528" fill-rule="evenodd" d="M321.6,19.3l54.6,0 5,7.4 4,5.4 4,4.7 4,4 4,3.2 3.6,2.1 3.7,1.3 3.3,.4 4-.4 4-1.3 3.9-2 3.6-2.7 4.5-4.3 4-4.5 4-5.3 5.3-8 26.5,0 -9.4,24.1 -5.4,12.7 -4.5,10.1 -5.4,10.7 -6.7,12.7 -4,6.7 -3.9,6 -4,5.3 -4.1,4.7 -4.4,4.2 -4.6,3.7 -4,2.5 -4.7,2.1 -2,.7 -2.7,.5 -4.6,.4 -4-.3 -4.7-1.3 -4.7-2.1 -3.3-2.1 -2-1.4 -4-3.5 -3.8-4 -5.1-6.1 -4.8-6.7 -3.9-6 -4.2-7.3 -4.4-8.7 -4.7-10.1 -4.9-11.4 -4.5-11.3 -4.6-12.8zM433.2,76.8l-5.4,4 -2.6,1.7 -4,1.9 -4,1.4 -5.4,1.4 -6.6,1.3 -8,1.1 -6,.6 -6,0 -5.4-.5 -4-1.6 -3.3-1.7 -9.3-5.8 -1.4-.4 -.6,.4 -.1,.9 .7,2.7 .7,1.5 2,3.8 1.3,2.1 4.7,6 4.4,4.7 2.2,2 2.6,2 3.2,2 2.8,1.4 3.9,1.3 3.1,.7 5.1,.6 -3.3,1 -4.6,.4 -.3,.6 1.8,.7 1.8,.3 2,.3 2,0 7.3-.8 1.3-.5 3.3-2 2.7-2 5.4-5.1 3.3-3.9 3.3-4.4 2.7-4 3.3-5.5 3.4-6.5 1.2-3.4 .1-.9 -.7-.1z"/>
<path fill="#110636" fill-rule="evenodd" d="M322.3,19.3l51.1,0 4.4,6.7 5.4,7.2 4,4.8 4.6,4.7 4.2,3.4 3.8,2.2 4,1.5 4,.6 4-.4 2.4-.6 2.3-.9 4.4-2.4 4.3-3.4 4.6-4.4 4.7-5.5 4.7-6.7 4.2-6.8 16.1,0 -6.6,15.4 -6.8,14 -3.3,6.1 -2.9,4.7 -2.8,4 -3.3,4.1 -2.6,2.9 -3.4,3.2 -2.6,2.1 -3.4,2.1 -4,1.9 -3.3,1.3 -4.7,1.2 -4.6,.9 -5.4,.4 -4,.1 -4.6-.1 -3.4-.4 -4-.8 -4-1.2 -4.6-2.8 -3.4-2.5 -3.3-2.8 -6.8-6.9 -3.4-4.1 -4.7-6 -11.1-15.5 -2-2.1 -.6,.2 -.1,.7 .7,3.1 2,6.2 3.3,8.6 4,9.1 4,8 4,7.3 4,6.4 3.4,4.8 3.3,4.1 3.8,4 2.8,2.6 3.4,2.7 3.2,2 4.1,2 4.7,1.5 2.8,.5 -1.5,.5 -3.3-.1 -3.3-.7 -4.3-1.7 -1.1-.1 .8,.8 3.2,2 2.9,1.3 1.9,.7 3.2,.8 4.7,.3 6,0 1.8-.4 2.9-1.4 3.1-2 4.1-3.3 3.4-3.4 4-4.6 4-5.2 3.4-4.8 4-6.3 7.3-12.7 5.3-11.3 8-18 6-14 3.4-9.4 3.9,0 -4.2,11.4 -5.4,13.4 -4.5,10.7 -5.6,12 -4.6,9.4 -7.2,13.4 -4,6.7 -4,6 -4.1,5.3 -4.3,4.9 -4.7,4.4 -4,3 -4.7,2.9 -4.6,1.9 -3.4,.8 -4.6,.4 -4-.4 -4.7-1.3 -4.7-2.2 -4-2.6 -4-3.3 -4.4-4.4 -6-7.4 -3.9-5.4 -4.6-7.3 -4.2-7.4 -4.7-9.3 -4.6-10.1 -5.3-12.7 -3.9-10 -4.1-11.4z"/>
<path fill="#160845" fill-rule="evenodd" d="M322.9,19.3l7,0 3.9,11.4 4,10.6 4.7,11.4 3.3,7.5 4,8.2 4,7.6 4,6.9 5.3,8 2.1,2.8 3.8,4.6 3.3,3.3 2.9,2.7 2.6,2.1 3.4,2.2 4,2 1.2,.4 .1,.2 1.8,.5 -.5,.1 -1.3-.1 -4-1.4 -4.7-2.5 -5.3-3.8 -.6,.3 2.6,2.7 4,3.3 3,2 2.5,1.4 3.2,1.3 2.3,.7 3.7,.7 4.6,.4 1.4,.6 3-.4 3.6-1.3 4.6-2.7 3.4-2.7 3.6-3.3 3.8-4.1 5.3-6.6 3.3-4.7 6.7-10.1 3.3-5.5 2-3.8 6-12.1 6.7-14.7 5.3-12.6 4.9-12.8 .4-.7 1.9,0 -9.5,24.1 -6,14.1 -4.7,10 -4,8 -6.5,12.1 -4.8,8 -4,6 -4.6,6 -4.2,4.7 -4.2,4 -4,3.1 -4,2.5 -4.7,2.1 -3.3,.9 -2.7,.4 -2.6,.1 -2.7-.1 -2-.4 -4.7-1.5 -4-2 -4.6-3.1 -4-3.5 -4.3-4.5 -5.4-6.7 -4.7-6.7 -4.5-7.3 -4-7.4 -4.7-9.4 -4.2-9.3 -3.9-9.4 -4.7-12 -4.1-11.4zM371.8,103.5l-.3,.1 .3,.5 .2-.5zM338.5,19.3l32.7,0 5.3,8 6,8 4.7,5.4 4,3.8 4,3.2 4,2.4 4,1.6 2,.4 2.6,.3 4.7-.5 2-.6 3.1-1.2 4.5-2.7 4.4-3.6 4.7-4.7 4.6-5.7 4.7-7 4.2-7.1 13,0 -6.9,14.7 -4.5,8.7 -4.2,7.4 -2.5,4 -3.2,4.7 -3.7,4.7 -3.5,3.8 -3.4,3.1 -2.6,2 -3.4,2.1 -4,1.9 -4,1.3 -3.3,.8 -4,.5 -4.7,.2 -4.6-.2 -4.7-.7 -4-1 -4-1.4 -2.7-1.3 -2.5-1.8 -3.5-2.7 -3.3-3.1 -4-4.2 -3.9-4.7 -3.6-4.7 -4.2-6 -3.9-6 -4-6.7z"/>
<path fill="#200a5e" fill-rule="evenodd" d="M323.4,19.3l5.6,0 3.5,9.9 4.7,12.2 3.3,8 4.7,10.6 4.6,9.5 5.1,9.4 4,6.7 5,7.3 .4,.7 -.5,.2 -2-2.3 -.1,.1 .1,.8 2.7,4.1 2,2.6 4.6,5.2 3.4,3.3 3.3,2.7 4.1,2.7 4.4,2 5.5,1.5 3.3,.5 -1.5,.7 -.8,.7 3,.2 3-.2 3-.7 2-.7 4.2-2 3.2-2 4.1-3.3 4.5-4.5 5.4-6.3 4-5.3 3.3-4.7 4.7-7.3 2.6-4.5 4-7.6 4.7-9.6 6-13.2 6.7-16 4.2-11.4 1.4,0 -5.9,15.4 -4.7,11.4 -4,9.3 -4.6,10.1 -4.7,9.4 -5.4,10 -4.7,8 -5.3,8.1 -4,5.3 -4.7,5.4 -3.6,3.5 -4.7,3.7 -4,2.5 -4.7,2.2 -4,1 -4.6,.4 -4-.3 -4.7-1.4 -2.7-1.2 -2.6-1.5 -4.7-3.3 -3.9-3.6 -3.7-4 -5.4-6.7 -4.6-6.7 -4.1-6.7 -4.1-7.4 -4.6-9.4 -3.9-8.7 -3.4-8 -5.2-13.4 -4.1-11.4zM343.4,19.3l26,0 5.8,8.7 5.3,7.1 4.7,5.6 4.8,4.7 4,3.3 4.5,2.8 2.7,1.1 2,.6 2.6,.5 2,.2 4.7-.5 4.7-1.6 4.3-2.4 5-4 4.7-4.7 5.3-6.7 4-6 5.1-8.7 11,0 -3.7,8 -4.1,8.1 -6.5,11.3 -2.6,4.1 -3.4,4.6 -3.8,4.8 -3.3,3.6 -3.4,3.2 -2.6,2.1 -3.4,2.1 -3.3,1.7 -2.7,1.1 -4,1.1 -4.6,.6 -2.7,.1 -4-.2 -4-.5 -4.7-1.1 -3.3-1.3 -3.3-1.5 -3.4-1.9 -3.1-2.5 -2.9-2.6 -3.3-3.4 -3.5-4 -3.6-4.7 -3.9-5.4 -8-12.7 -4.2-7.3zM364.3,94.3l.2-.5 .2,.5 -.2,.2zM365,94.9l.2-.2 .1,.2 -.1,.3zM365.6,95.6l.2-.2 .2,.2 -.2,.3zM366.2,96.3l.4,0 -.1,.4zM366.9,96.9l.3,0 .2,.7 -.3,0zM367.8,98.3l0-.4 .3,.4zM368.4,98.9l.1-.3 .2,.3 -.2,.2zM369,99.6l.2-.2 .2,.2 -.2,.2zM369.7,100.3l.1-.2 .2,.2 -.2,.1zM370.4,101l.1-.2 .2,.2 -.2,.1zM371,101.6l.2-.2 .2,.2zM371.7,102.3l.1-.2 .2,.2z"/>
<path fill="#2c0d7d" fill-rule="evenodd" d="M323.9,19.3l4.5,0 5.8,16.1 4,10 7.3,16.7 1.7,3.3 .2,.8 .4,.6 .2,.7 .5,.6 .1,.7 .6,.7 .1,.7 .5,.6 .1,.7 .6,.7 0,.6 .5,.7 .2,1.4 .5,.6 .1,.7 .5,.7 .2,.7 4,7.3 3.3,5.4 4,6 2.7,3.4 4.8,5.3 3.6,3.3 3.4,2.7 2.2,1.5 4,2.1 3.3,1.3 4.3,1.1 -2.3,.4 -2.6-.4 -1.6,0 .9,.3 .5,.4 2.2,.7 3.1,.6 2.9,.2 2.6-.2 5.4-1.3 4.5-2 4.2-2.7 4-3.3 5.3-5.4 4-4.7 4-5.3 3.3-4.8 4.7-7.3 2.6-4.6 5.4-10.2 6-12.6 4.7-10.7 4.7-11.4 1-2.7 .4-.7 2.2-6 .4-.7 .4-1.3 .4-.7 .1-.6 .3-.7 .7,0 -.7,1.9 -.2,.1 -.3,1.3 -.4,.7 -.8,2.7 -.5,.7 -.8,2.6 -.4,.7 -.4,1.3 -.4,.7 -.1,.7 -4.1,10 -6,14.1 -4.7,10 -3.3,6.7 -6.5,12.1 -4.7,8 -4,6 -4,5.4 -4.6,5.3 -4.4,4.4 -4,3.3 -5.4,3.4 -4.6,2 -3.4,.9 -4.6,.4 -2.7-.2 -2-.3 -4-1.3 -2-.9 -3.3-1.9 -4-2.8 -4-3.5 -3.9-4.1 -5.8-7.4 -3.3-4.7 -4.6-7.4 -4.1-7.3 -4-8 -4.6-10.1 -3.9-9.4 -4.7-12 -4.1-11.4zM347.1,19.3l20.9,0 5.2,8 5.3,7.2 5.3,6.4 5.2,5.2 4.9,4 4.6,2.7 4.7,1.7 2,.4 2.6,.1 4.7-.5 2-.5 3.1-1.2 4.5-2.7 5.1-4.2 4.6-4.8 4.7-5.9 4.7-7.1 5-8.8 9.7,0 -3.2,6.7 -3.8,7.4 -6.1,10.7 -2.6,4 -3.3,4.7 -3.3,4 -3.1,3.5 -2.7,2.6 -3.3,2.9 -3.3,2.3 -3.4,1.8 -3.3,1.5 -4,1.2 -3.3,.5 -3.4,.2 -3.3-.2 -3.3-.4 -4-1 -3.4-1.1 -4-1.8 -4-2.4 -2-1.3 -3.3-3 -3.3-3.4 -3.5-3.9 -3.7-4.7 -3.8-5.4 -4-6 -4-6.7z"/>
<path fill="#3a109f" fill-rule="evenodd" d="M324.4,19.3l3.2,0 6.9,19.4 8,19.4 4,8.8 4,8 4,7.3 4,6.7 6.4,9.4 3.4,4 4.2,4.3 4.7,4 2.6,1.9 4,2.2 1,.3 .4,.4 1.2,.3 -.6,.2 -.6,0 -2-.7 -4-1.9 -2.7-1.7 -.7-.1 0,.2 3.2,2.6 2.1,1.4 2.6,1.3 3.5,1.4 4,.9 3.3,.3 3.3-.3 4.5-.9 3.5-1.4 4.7-2.7 3.5-2.6 4.5-4.1 4-4.4 4-4.9 4-5.4 4-6 4.1-6.7 4-7.4 5.4-10.7 .2-.6 .5-.7 2.9-6.7 .5-.7 .1-.6 .6-.7 .4-1.3 .3,.6 -.2,.7 -.5,.7 -.1,.6 -.5,.7 -.1,.7 -.5,.6 -.1,.7 -1.5,3.4 -.5,.6 -.1,.7 -.5,.7 -.1,.6 -.5,.7 -.2,.7 -1.9,4 -4.7,9.4 -4.8,8.7 -3.9,6.7 -3.9,6 -3.4,4.7 -3.8,4.6 -4.5,4.9 -4,3.6 -4.7,3.4 -3.3,1.9 -4.7,1.9 -3.3,.8 -4.7,.2 -2-.1 -2-.4 -3.3-1 -4.7-2.2 -4-2.6 -4-3.4 -4.2-4.3 -5.5-6.7 -3.3-4.7 -3.9-6 -3.5-6 -3.9-7.4 -3.9-8 -3.8-8.7 -4.1-10 -4.6-12.1zM349.8,19.3l17.1,0 5.6,8.7 5.3,7.2 5.4,6.4 5.1,5.1 5,4.1 4.5,2.6 3.2,1.4 2.2,.6 2.6,.4 2,.1 4.7-.5 2.2-.6 3.2-1.4 4.5-2.6 4.8-4.1 4.6-4.7 4.7-5.9 5.3-8.1 5-8.7 8.5,0 -6.3,12.7 -6.1,10.7 -2.6,4 -3.4,4.7 -3.2,4 -3,3.4 -2.9,2.7 -3.3,2.8 -3.3,2.3 -3.4,1.8 -3.3,1.4 -2.7,.7 -2.6,.6 -4,.3 -4-.2 -3.4-.5 -3.3-.9 -3.3-1.2 -3.4-1.6 -3.3-1.9 -4-2.9 -2-1.7 -3.7-3.7 -3.5-4 -6.6-8.7 -6.5-10.1zM465.7,20l.1-.3 0,1zM465,22l.2-.5 .1,.5 -.1,.5zM464.4,23.3l.2,0 -.1,1 -.2-.3zM463.7,25.3l.1-.3 .2,.3 -.2,.8zM463.2,26.7l.1,.6 -.1,.4 -.2-.4zM462.3,28.7l.2-.3 .2,.3 -.2,.8 -.2-.2zM461.6,30.7l.2-.7 .2,.7 -.2,.5zM461,32l.2-.3 .1,.3 -.1,.9 -.2-.2zM460.3,34l.2-.6 .2,.6 -.2,.6zM459.7,35.4l.1-.4 .2,.4 -.2,.9 -.2-.3zM459.1,36.7l.3,.7 -.2,.5 -.3-.5zM458.3,38.7l.2-.4 .2,.4 -.2,.9 -.2-.2zM457.7,40l.1-.1 .2,.1 0,.7 -.2,.5 -.3-.5zM456.9,42.1l.3-.6 .2,.6 -.2,.8 -.3-.2zM456.3,43.4l.2-.4 .2,.4 -.2,1.1 -.3-.4zM455.8,44.7l0-.1 .2,.1 .1,.7 -.3,.7 -.3-.7zM454.9,46.7l.3-.5 .2,.5 -.2,1 -.4-.3zM454.3,48.1l.2-.4 .3,.4 -.3,1.1 -.4-.5zM453.7,49.4l.1-.2 .3,.2 0,.7 -.3,.7 -.4,0z"/>
<path fill="#4d12b3" fill-rule="evenodd" d="M325.3,19.3l1.5,0 4.8,13.4 4.7,12 6,14.1 4.7,10 5.2,10.1 3.4,6 3.3,5.3 4.5,6.7 -.2,.5 -1.4-1.4 -.2,.3 .2,.6 3.4,4.9 5.9,6.5 5.3,4.7 2.8,2 2.2,1.3 2.8,1.4 3.9,1.3 3.7,.7 4,.2 2.7-.3 4.8-1.2 3.1-1.4 3.6-2 5.2-4 4-3.8 3.3-3.6 3.3-4.1 4-5.4 4-5.9 5.3-8.7 .6,0 -.9,2 -3.4,6.1 -5.8,9.3 -5.3,7.4 -3.4,4 -3.1,3.2 -2.6,2.6 -3.4,2.8 -2.6,1.9 -3.4,2 -2.6,1.3 -3.4,1.1 -3.3,.7 -2.7,.2 -2.6-.1 -2.7-.5 -2.7-.7 -3.3-1.4 -5.3-3.3 -2.7-2 -3.3-3.1 -4.8-5.4 -4.2-5.3 -3.3-4.7 -5.3-8.7 -5.8-10.9 -6-13.1 -4.6-11.5 -5.4-14.6zM361.2,95.3l0,.5 .1-.2zM351.7,19.3l14.4,0 5.1,8 5.3,7.4 6,7.2 5.5,5.5 5,4 4.5,2.7 3.2,1.3 2.3,.7 2.8,.4 2,.1 4.5-.5 4.2-1.3 3.8-2 3.8-2.7 2.4-2 3.3-3.3 5.4-6.2 6-8.7 3.3-5.6 2.7-5 7.6,0 -6.7,13.4 -5.8,10 -5.6,8.1 -3.3,4 -2.9,3.2 -3.3,3.2 -2.7,2.1 -2.7,1.8 -4,2.2 -2.6,1.1 -3.4,1 -2.6,.5 -4,.2 -3.4-.2 -3.3-.6 -3.3-1 -3.4-1.2 -2.6-1.3 -3.4-2 -3.3-2.4 -3.3-2.8 -3.7-3.8 -3.5-4 -6.6-8.7 -6-9.4zM455.8,45.4l0-.2 0,.4zM453.7,50.1l.1-.3 0,.5zM453.1,51.4l.1-.2 0,.6zM451.7,54.8l.1-.6 0,.7zM451,56.1l.2-.4 0,.7zM450.4,57.5l.1-.4 .1,.4 -.1,.3zM449.7,58.8l.1-.3 .2,.3 -.2,.6zM449.1,60.1l.1-.2 .1,.2 -.1,.8zM448.4,61.5l.1-.2 .1,.2 -.1,.8 -.2-.2zM447.8,62.8l.1,0 -.1,.9 -.2-.2zM447.1,64.1l.2,.7 -.1,.3 -.2-.3zM446.5,65.5l.2,.7 -.2,.3 -.2-.3zM445.6,67.5l.2-.7 .2,.7 -.2,.3zM444.9,68.8l.3-.6 .1,.6 -.1,.4zM444.5,69.5l.2,.7 -.2,.3 -.2-.3zM443.8,70.8l.2,.7 -.2,.4 -.2-.4zM443.1,72.2l.2,0 0,.6 -.1,.4 -.3-.4zM442.4,73.5l.1-.1 .2,.1 -.2,1 -.3-.3zM441.7,74.9l.1-.3 .3,.3 -.3,.9 -.2-.3zM441,76.2l.2-.3 .2,.3 -.2,.8 -.3-.1zM440.3,77.5l.2-.4 .3,.4 -.3,.8 -.3-.1zM439.5,78.9l.3-.5 .3,.5 -.3,.6zM363.4,97.6l.4-.1 0,.6zM365.7,100.3l.1-.1 .1,.1 -.1,.2zM366.3,101l.3,0 -.1,.3zM366.9,101.6l.3,0 0,.5zM367.5,102.3l.3-.1 1.1,1.4 -.4,.1zM369,104.3l.2-.5 .4,.5 -.4,.1zM369.7,105l.1-.4 .4,.4 -.4,.1zM370.3,105.6l.2-.3 .4,.3 -.4,.2zM371,106.3l.2-.4 .4,.4 -.4,.2zM371.7,107l.1-.4 .5,.4zM372.5,107.6l0-.3 .7,.3 0,.3zM373.4,108.3l.5,0 -.1,.2zM374.2,109l.4,0 -.1,.2z"/>
<path fill="#6315c0" fill-rule="evenodd" d="M353,19.3l12.4,0 5.1,8.1 5.3,7.4 6,7.3 5.3,5.3 5.9,4.7 4.6,2.7 3.3,1.3 2.3,.6 4,.5 4.5-.4 4.4-1.4 4-2 3.9-2.6 3.1-2.7 2.7-2.7 5.4-6.2 3.3-4.6 3.3-5.1 3.4-5.6 2.4-4.6 6.7,0 -6,12 -6.1,10.8 -2.7,4 -3.4,4.7 -5.6,6.5 -3.3,3.1 -2.7,2.2 -4,2.6 -2.7,1.3 -3.3,1.3 -2.7,.7 -2.6,.5 -3.4,.2 -3.3-.3 -3.3-.5 -4-1.2 -3.4-1.4 -2.6-1.4 -3.4-2.1 -3.3-2.6 -2.7-2.3 -6.2-6.6 -6.7-8.7 -6.2-9.4zM343.1,65.5l.1-.2 .2,.9 -.2,.1zM343.6,66.8l.2-.3 8,15 4.6,8.1 4.7,7.3 4.1,5.5 4,4.5 2.8,2.8 3.8,3.3 2.8,2 4.8,2.7 3.5,1.3 2.8,.7 4.8,.5 4.9-.5 2.6-.7 3.5-1.3 2.6-1.4 3.2-2 2.6-2 3.7-3.3 5.6-6 3.3-4.1 3.4-4.6 5.5-8.1 1.1-2 .2,.7 -5.9,10 -3.2,4.7 -3.5,4.7 -5.9,6.7 -5.7,5.1 -2.7,2 -3.3,2.1 -2.7,1.3 -3.3,1.3 -2.7,.6 -3.3,.4 -2.7,0 -2.6-.3 -2.7-.8 -3.3-1.3 -2.7-1.4 -3.3-2.2 -3.4-2.6 -2.3-2.2 -2.5-2.7 -2.9-3.3 -6.4-8.7 -3.4-5.4 -3.1-5.4 -3.4-6.3 -3.3-7 -2.7-6.2zM439.8,78.9l0-.2 0,.3zM439,80.2l.2-.3 0,.5zM438.3,81.5l.2-.5 .1,.5 -.1,.2zM437.7,82.2l.1-.2 .2,.2 -.2,.8 -.2-.1zM436.9,83.6l.3-.4 .2,.4 -.2,.6z"/>
<path fill="#7b17c0" fill-rule="evenodd" d="M354,19.3l10.8,0 5,8 6.7,9.2 5.3,6.3 5.3,5.3 6,4.7 4.7,2.6 4.7,1.7 2,.4 2.7,.2 4-.4 4.4-1.2 4.2-2 4.8-3.3 3.1-2.7 2.8-2.8 3.3-3.8 2.7-3.4 3.3-4.8 3.4-5.3 4.8-8.7 5.9,0 -5.7,11.4 -6.1,10.7 -2.6,4 -3.4,4.7 -5.6,6.5 -3.3,3.2 -2.7,2.1 -2.7,1.8 -2.6,1.5 -3.4,1.5 -3.3,1 -3.3,.6 -2.7,.1 -2.7-.1 -4-.6 -4-1.1 -3.3-1.4 -2.7-1.4 -3.3-2.2 -3.3-2.5 -2.7-2.4 -3.3-3.3 -3-3.3 -6.7-8.7 -6.6-10.1zM352.4,84.9l.1-.4 0,.6zM436.4,84.9l.1-.2 0,.3zM353,85.6l.2-.1 .2,.7 -.2,.3zM353.6,86.9l.2-.3 5.9,9 5.4,7.4 5.1,5.3 4.4,4 4.5,3.4 2.3,1.3 2.8,1.4 4.2,1.3 4.8,.7 4-.1 3.2-.6 2.3-.7 4.6-2 2.3-1.3 2.9-2 4-3.4 4-4 6.7-8 4.9-6.7 .4-.8 .4,.1 -.2,.7 -3.9,6 -3.3,4.7 -2.7,3.3 -5,5.5 -4.6,4.3 -2.7,2 -4,2.6 -4.7,2.1 -2,.7 -3.3,.6 -4.7,.2 -2-.2 -2.6-.7 -4.7-1.9 -4.7-2.8 -2.6-2 -2.7-2.3 -5-5.4 -5.1-6.7 -5.2-7.9 -2.7-4.7zM435,86.9l.2-.2 .1,.2 -.1,.4zM434.3,88.2l.2-.4 .2,.4 -.2,.3zM433.7,88.9l.1-.2 .3,.2 -.3,.8 -.3-.1zM432.9,90.2l.3-.4 .2,.4 -.2,.6z"/>
<path fill="#9318bb" fill-rule="evenodd" d="M354.7,19.3l9.5,0 5.6,8.8 5.4,7.4 5.3,6.6 5.9,6 5.9,4.7 4.5,2.6 3.2,1.4 2.2,.7 3,.5 2,.1 2-.1 3.3-.5 4.2-1.4 3.9-2 4.6-3.3 3-2.7 3-3 2.6-3.1 2.7-3.4 3.3-4.7 3.4-5.3 5.2-9.3 5.2,0 -6.1,12 -5.4,9.4 -2.6,4 -3.4,4.7 -3.2,4 -2.5,2.7 -3.2,3.1 -2.7,2.2 -2.7,1.8 -3.3,1.8 -3.3,1.4 -2.7,.8 -2.7,.5 -3.3,.2 -3.3-.2 -3.4-.6 -2.6-.8 -3.4-1.2 -4-2.1 -2.6-1.8 -3.4-2.5 -3.3-3 -2.9-2.9 -3.6-4.1 -6.6-8.7 -6.5-10zM431.7,92.3l.1-.2 .2,.2 -.2,.2zM431,93.6l.2-.5 .1,.5 -.1,.1zM430.3,94.3l.2-.3 .2,.3 -.2,.4zM429.8,94.9l.2,0 -.2,.9 -.3-.2zM428.9,96.3l.3-.4 .2,.4 -.2,.5zM428.3,96.9l.2-.2 .4,.2 -.3,.7 -3.3,4.7 -3.2,4 -4.4,4.7 -4.5,4.2 -4.7,3.4 -4,2.2 -4.7,1.8 -4,.7 -4,.1 -4-.7 -4-1.5 -4.6-2.5 -4-3 -3.7-3.4 -3.7-4 -3.9-5.3 .6-.1 5.2,5.4 4.5,4 3.5,2.7 3.2,2 2.7,1.4 3.8,1.3 3.2,.7 1.9,.2 4.7-.1 4-.8 3.8-1.3 3.8-2.1 3.1-2 4-3.3 4.8-4.7 4.6-5.3zM362.5,101l0-.4 .1,.4zM363,101.6l.2-.3 .2,.3 -.2,.3zM363.6,102.3l.2-.2 .2,.2 -.2,.6z"/>
<path fill="#a918af" fill-rule="evenodd" d="M355.4,19.3l8.3,0 5.5,8.6 5.3,7.5 6,7.3 6,6 6,4.7 4.7,2.7 3.5,1.4 2.5,.6 4,.4 4.6-.4 2.4-.6 3.4-1.4 4.6-2.7 4.3-3.3 2.9-2.7 3.1-3.3 5.3-6.7 5.4-8.1 5.5-10 4.5,0 -5.7,11.4 -3.4,6 -3.3,5.4 -5.2,7.3 -2.7,3.4 -3.1,3.3 -2.6,2.6 -2.7,2.2 -3.3,2.2 -2.7,1.4 -2.7,1.2 -2.6,.8 -3.4,.7 -3.3,.1 -3.3-.2 -3.4-.6 -2.6-.8 -3.4-1.3 -3.3-1.7 -3.3-2.2 -2.7-2.1 -3.3-2.9 -2.8-2.7 -3.6-4.1 -6.7-8.7 -6.5-10zM427.7,98.3l.1-.2 0,.3zM427.1,98.9l.1-.1 .1,.1 -.1,.3zM426.3,100.3l.2-.6 .1,.6zM425.6,101l.2-.4 .2,.4 -.2,.2zM424.9,101.6l.3-.3 .2,.3 -.2,.5zM424.4,102.3l.1-.2 .4,.2 -.3,.7 -5.1,6 -4.3,4.3 -4,3.3 -4,2.6 -4.7,2.3 -4,1.2 -3.3,.4 -2.7,.1 -3.3-.4 -4-1.2 -3.4-1.6 -3.3-2 -3.8-3 -3.5-3.3 -3.4-4.1 0-.1 .7,.1 4.4,4.1 4.3,3.3 3.2,2 2.7,1.4 3.5,1.3 2.8,.7 3.8,.4 3.3-.1 2.8-.3 4.5-1.4 4-1.9 3.4-2.1 3.3-2.5 3.1-2.8 5.2-5.4z"/>
<path fill="#bc1a9a" fill-rule="evenodd" d="M356.1,19.3l7.1,0 7.3,11.4 6,8 3.3,3.9 3.3,3.5 2.8,2.6 3.2,2.7 4.7,3.4 3.9,2 4.8,1.6 2.2,.4 2.5,.1 2.8-.1 2.5-.5 4.6-1.5 2.7-1.4 2.1-1.3 5.2-4 5.4-5.4 2.7-3.2 2.6-3.5 6-9.2 5.3-9.5 3.7,0 -5.4,10.7 -6.6,11.4 -5.1,7.3 -2.7,3.4 -3.2,3.5 -2.6,2.5 -2.7,2.2 -3.3,2.3 -3.4,1.8 -3.3,1.3 -2.7,.6 -2,.4 -3.3,.1 -3.3-.2 -3.4-.6 -2.6-.8 -3.4-1.4 -2.6-1.4 -3.4-2.1 -3.3-2.6 -2.7-2.4 -6.2-6.6 -3.3-4 -3.5-4.7 -6.6-10zM421.8,105.6l.1,0 -.1,.2zM419.6,108.3l.2-.3 .1,.3zM418.7,109l.5-.5 0,.6zM417.9,109.7l.6-.6 0,.7zM417.1,110.3l.7-.6 .2,.6 -2.8,2.7 -3.4,2.8 -5.3,3.6 -2.7,1.4 -3.3,1.2 -2.7,.6 -2.6,.3 -2.7,.1 -2.7-.3 -2.6-.6 -3.4-1.3 -2.6-1.4 -3.4-2.2 -2.7-2.2 -2.1-2 .2-.6 4,2.9 2.7,1.7 2.6,1.4 3.3,1.3 2.5,.7 3.5,.6 4,.1 4-.7 2.7-.7 4.6-2 3.4-2 2.7-1.9zM372.4,112.3l.1-.2 .6,.2z"/>
<path fill="#cb277e" fill-rule="evenodd" d="M356.7,19.3l5.9,0 7.2,11.3 6,8 6,6.9 3.4,3.2 3.1,2.7 4.7,3.4 2.2,1.3 2.9,1.4 4,1.3 2.4,.4 2.7,.2 2-.1 3.4-.5 2.3-.7 3.2-1.3 4.6-2.7 5-4 2.8-2.7 3.3-3.7 5.4-6.9 6-9.5 4.2-8 3,0 -6.1,12 -5.5,9.4 -5.2,7.4 -2.6,3.3 -3.7,4 -2.8,2.7 -2.7,2.2 -3.3,2.1 -2.7,1.4 -3.3,1.3 -2.7,.7 -2.6,.4 -2.7,.1 -3.3-.2 -2.7-.5 -3.3-1 -3.4-1.4 -2.6-1.4 -3.4-2.2 -5.7-4.8 -5.7-6.1 -2.8-3.3 -4-5.4 -6.7-10zM411,115.7l.5,0 -.3,.2zM410,116.3l.5-.2 .2,.2 -.2,.2zM378.3,117l.2-.1 .6,.1zM408.8,117l.4-.2 .6,.2 -.6,.3zM379.1,117.7l.1-.5 4.6,2.1 4,1.2 3.4,.6 3.3,.2 2.7-.2 3.3-.6 4-1.3 3.3-1.7 .7-.2 .3,.4 -3.6,2.2 -3.4,1.4 -2,.7 -2.6,.5 -3.4,.3 -3.3-.2 -3.3-.8 -4.7-2z"/>
<path fill="#db4165" fill-rule="evenodd" d="M357.3,19.3l4.8,0 6.4,10.1 3.3,4.8 4,5.2 6,6.7 5.8,5.3 4.6,3.4 4.8,2.7 3.5,1.3 2,.5 2,.3 2.7,.2 4.6-.4 2.3-.6 3.6-1.3 4.7-2.7 2.7-2 3.2-2.7 2.9-2.8 3.3-3.8 4.7-6.1 6-9.5 4.6-8.6 2.3,0 -5.4,10.7 -5.9,10 -2.7,4.1 -3.4,4.6 -5.2,6.1 -5,4.5 -2.7,1.8 -3.3,1.9 -3.3,1.5 -2,.6 -3.4,.6 -2.6,.2 -2.7-.1 -3.3-.5 -2.7-.8 -3.3-1.2 -2.7-1.4 -3.3-2 -2.7-2 -4-3.5 -3.6-3.6 -3-3.4 -5.7-7.4 -6.7-10zM403.7,119.7l.8-.2 .5,.2 -1.2,.3zM384.4,120.4l.1-.3 .7,.1 4.6,1 4,.3 4.7-.3 4.7-1.1 .4,.3 -1.8,.7 -2.6,.8 -2.7,.5 -2.7,.1 -2.6-.1 -2.7-.5z"/>
<path fill="#f07040" fill-rule="evenodd" d="M357.9,19.3l3.7,0 6.2,9.9 6.7,9.2 6.1,7 3.3,3.3 3.1,2.7 5.5,4 5,2.7 4.3,1.4 3.3,.6 2.1,.1 2.1-.1 3.2-.5 4.7-1.5 2.6-1.3 3.2-2 5.1-4 3.1-3.1 3.3-3.6 4.7-6.2 5.5-8.6 5.4-10 1.6,0 -5,10 -5.8,10.1 -2.7,4 -3.4,4.7 -5.2,6 -3.1,3 -2.7,2.2 -2.6,1.8 -2.7,1.5 -2.7,1.2 -2.6,.8 -3.4,.7 -2.6,.1 -3.4-.1 -3.3-.6 -2.7-.8 -3.3-1.4 -2.7-1.4 -2.6-1.8 -2.7-2 -3.3-2.9 -6.1-6.3 -6.3-8.1 -6.7-10zM389,121.7l.8-.1 2.2,.1 -1.5,.2z"/>
<path fill="#f89138" fill-rule="evenodd" d="M358.4,19.3l2.6,0 6.8,10.6 6,8.3 6.2,7.2 3.4,3.3 3,2.7 5.4,4 4.8,2.7 3.6,1.4 2.3,.6 4.7,.5 4.6-.5 2.6-.6 3.5-1.4 2.6-1.3 3.1-2 5.6-4.6 4.6-4.9 4.7-5.9 6.2-9.4 3.4-6 2.4-4.7 .9,0 -5.5,10.7 -5.8,10 -5.7,8.1 -2.8,3.3 -2.4,2.7 -4.7,4.3 -3.3,2.3 -3.4,1.8 -2.6,1.1 -2.7,.8 -2.7,.5 -2.6,.2 -2.7-.2 -3.3-.5 -2.7-.7 -3.3-1.4 -5.4-3 -2.6-1.9 -3.8-3.3 -3.3-3.3 -3-3.4 -6.3-8 -6.6-10.1z"/>
<path fill="#f8ab37" fill-rule="evenodd" d="M359,19.3l1.5,0 6.4,10 5.3,7.4 6.1,7.4 5.3,5.3 4.7,4 5,3.4 2.5,1.3 3.3,1.4 4.1,1 2,.3 2.6,.1 2.7-.2 2.7-.5 4-1.4 2.8-1.3 2.2-1.4 4.5-3.3 5.1-4.7 3-3.4 2.7-3.3 4-5.4 .3-.7 .5,.1 -1.1,2.1 -3.3,5.2 -5,6.7 -4.8,5.4 -4.9,4.1 -4.7,2.9 -2.7,1.2 -2.6,.9 -2.7,.5 -2.7,.3 -2.6-.1 -2.7-.3 -2.7-.6 -3.3-1.2 -5.3-2.8 -4.7-3.4 -5.3-4.9 -5.8-6.7 -5-6.7 -5.3-8zM442.3,34.7l.2-.3 .2,.3 -.2,.5z"/>
<path fill="#f8d230" fill-rule="evenodd" d="M364.4,27.3l.1-.1 0,.3zM365.1,28l.3,.7 -.2,.1zM365.6,29.3l.2-.3 .2,.3 -.2,.7zM365.9,30l.6-.1 5,6.8 6.2,7.4 3.8,4 3.7,3.3 4.4,3.4 4.2,2.7 4.2,2 3.8,1.1 4,.6 4-.1 4-.8 4-1.4 3.4-1.7 3.3-2.3 4.3-3.5 5-4.8 .4,.1 -.4,.8 -2.6,3.4 -5.1,5.2 -3.6,2.9 -4.7,2.8 -3.3,1.3 -4.7,1.1 -4,.1 -4.6-.6 -4-1.3 -2.7-1.2 -2.7-1.5 -4-2.8 -4-3.5 -4.6-4.8 -4.7-5.7 -4-5.6zM434.4,46.1l.1-.2 .2,.2 -.2,.3z"/>
<path fill="#f8f238" fill-rule="evenodd" d="M376.4,44.1l.1-.2 .1,.2 -.1,.1zM377,44.7l.2-.1 .1,.1 -.1,.4zM377.5,45.4l.3-.2 4.4,4.2 4.3,3.6 6,4.2 3.3,1.7 2,.9 3.4,1.1 2.6,.5 2.7,.3 2.7-.1 3.3-.5 2.7-.8 3.3-1.3 2.7-1.4 2-1.2 5.3-3.9 .2,.3 -2.5,2.6 -3.1,2.7 -3.3,2.2 -3.7,1.8 -2.9,1 -3.4,.7 -3.3,.1 -3.3-.3 -3.4-.7 -3.3-1.2 -3.1-1.6 -3.3-2 -3.4-2.7 -3.6-3.3 -5.3-6z"/>
<path fill="#fafa64" fill-rule="evenodd" d="M387,54.8l.2-.3 .6,.3 4.7,3 4,2 4,1.4 3.3,.7 3.4,.2 4-.3 3.3-.8 5.3-1.9 .3,.4 -3.5,2 -4.1,1.3 -4.7,.7 -2,0 -2.6-.3 -2.1-.4 -2.2-.7 -4.5-2 -4.3-2.6zM420.2,58.8l.3-.1 .7,.1 -.7,.2z"/>
</g></g>
<clipPath id="cpc"><rect x="56" y="214" width="182" height="143.7"/></clipPath>
<rect x="56" y="214" width="182" height="143.7" fill="#000"/>
<g clip-path="url(#cpc)"><g filter="url(#bl)">
<path fill="#060311" fill-rule="evenodd" d="M69.9,214l30.6,0 5.5,12.4 4,8.2 6.7,11.3 5.3,7.8 5.3,6.2 2.4,2.2 2.3,1.9 2.2,1.5 2.5,1.3 2.6,.9 2.7,.6 4,0 3.3-.5 2.7-.6 2.7-1.1 2.6-1.4 2.8-1.9 3.2-2.7 3.4-3.4 3.3-3.9 2.7-3.4 2.6-3.8 3.4-5.4 6.6-12.2 6.6-14 21.8,0 -3.5,10 -4.9,12.7 -.6,2.2 -3.2,12.5 -4.8,17.6 -.3,1.8 .2,.7 1.4-1.6 2-3.2 4.7-8.8 5.3-11.7 6.7-15.4 .2,.6 0,.6 -3.4,9.4 -5.8,14.7 -4.7,10.7 -4.8,10 -4.5,8.7 -4.6,8 -4.7,7.4 -4.8,6.7 -4.4,5.3 -5.2,5.3 -4.7,3.9 -4.6,3.1 -4,2 -4.7,1.6 -4,.7 -3.3,.1 -2.7-.2 -4-.8 -5.3-2 -4.7-2.7 -5.3-4 -5.2-5 -4.6-5.3 -4-5.4 -4-6 -4.6-8 -4.6-8.7 -4.8-10 -4-9.4 -4.5-11.3 -4.7-12.7 -4.1-12.1zM171.3,308.1l-6.6,3 -4,1.5 -6,1.8 -6.7,1.7 -10.7-.1 -5.3,.1 -2.7,.5 -.7,.3 -.2,.7 .2,.7 1,1.3 2.4,2 3.5,2 3.6,1.3 3.4,.7 2.8,.1 2.2-.1 4-.7 3.9-1.3 2.7-1.3 3.2-2 2.6-2 4.2-4 3.2-4 .8-1.4 0-.7 -.1-.1zM217.3,229.4l.2,.6 -.2,.8 -.4-.1z"/>
<path fill="#09041b" fill-rule="evenodd" d="M71,214l25.5,0 3.5,8.7 5.3,11 4,7.7 2.7,4.4 4.7,7.1 4.6,6.2 2.7,3.1 3.3,3.3 2.7,2.3 2.7,1.8 2.6,1.5 2.7,1.1 2.7,.6 3.3,.3 2.7-.1 4.6-.7 2.7-.9 3.3-1.5 3-1.8 3.5-2.6 3.5-3.3 3.4-3.6 4-4.8 2.6-3.8 3.4-5.2 3.3-5.7 6-11.7 5.7-13.4 12.4,0 -12.4,36.8 -4,10.7 -4,9.3 -4.1,8 -4.2,6.7 -2.4,3.4 -2.8,3.3 -4.5,4.7 -5,3.9 -5.4,3.2 -5.3,2.3 -6,1.8 -3.3,.2 -6-.3 -5.4-.5 -4.6-.7 -4-.9 -4-1.2 -7.4-3.2 -.6-.1 -.2,.2 .3,1.3 1.9,3.3 4,5.3 2,2.3 5.4,5.1 2.6,2 4.5,2.7 4.9,2 2.8,.7 3.8,.3 4.8-.3 3-.7 3.7-1.3 4.9-2.7 3-2 3.2-2.7 6.7-6.6 6-7.5 6-8.7 5.3-8.6 7.4-13.4 6.6-13.3 0-.2 .4,.2 -.3,1.3 -2.1,4.7 -4.9,10.7 -4.1,8 -5.3,9.4 -4.7,7.3 -5.3,7.4 -3.9,4.7 -4.4,4.5 -2.7,2.5 -3.3,2.7 -4,2.6 -2.7,1.4 -3.3,1.4 -4,1.2 -2,.3 -3.4,.2 -4-.3 -3.3-.8 -5.3-2 -3.4-1.9 -4-2.8 -3.3-2.8 -3-2.9 -4.2-4.7 -3.2-4 -5.9-8.7 -5.5-9.3 -6.5-12.7 -5.4-12.1 -6.5-16.7 -6.5-18.6zM207.9,253.4l.1-.3 0,.6zM207.2,254.8l.1-.4 .2,.4 -.2,.7zM206.5,256.1l.2-.3 .1,.3 -.1,.9 -.3-.2zM205.9,257.4l.1-.2 .2,.2 -.2,1.2 -.3-.5z"/>
<path fill="#0d0528" fill-rule="evenodd" d="M75,214l18.9,0 6.1,14.8 7.3,14.1 2.7,4.7 2,3 7.3,10 3.4,3.9 2.9,3 3,2.6 2.8,2 3.7,2.1 2.9,1.1 3.3,.7 2.7,.1 2.7-.1 4.2-.5 2.6-.7 3.2-1.2 2.7-1.5 3-2 2.5-2 3.1-2.8 4-4.3 3.3-4.1 3.4-4.9 4-6.5 4-7.5 3.3-6.9 4-9.2 3.1-7.9 9.4,0 -7.5,22.1 -5.9,14.7 -3.3,7.3 -4,8 -4.2,7.4 -3.8,6 -4.5,6 -3.3,3.9 -3.5,3.5 -3.8,3.1 -4.7,2.9 -4.7,2.3 -5.3,1.8 -3.3,.2 -6.7-.4 -6-.9 -6.7-1.9 -4.6-2 -3.4-2.1 -3.3-2.5 -5.7-5.9 -3.4-4 -3.2-4.7 -4.8-8 -3.2-6 -3.3-7.4 -4.7-12 -2.8-8 -2.9-9.4zM85.3,254.8l0-.3 .2,.3 -.2,.3zM85.9,256.1l.1-.3 .3,1 -.3,.2zM86.5,257.4l.2-.1 6.6,14.3 6.7,13.2 6.7,11.5 4,6 3.3,4.6 5.3,6.3 6,5.7 2.7,2.1 4.3,2.6 2.8,1.3 4,1.4 4.1,.7 2.1,0 1.8,0 4.3-.7 4.2-1.4 2.8-1.3 3.5-2 3.6-2.7 3.2-2.6 4.6-4.7 6.7-8 3.4-4.7 4-6 4.1-6.7 3.2-5.6 .3,.2 -.1,.7 -.5,.7 -.9,2 -4.5,8 -3.3,5.3 -4.1,6.1 -4.7,6 -2.3,2.7 -3.9,4.1 -4,3.6 -3.4,2.5 -3.3,2.1 -4,2 -4,1.3 -3.3,.7 -2.7,.2 -3.3-.2 -3.4-.6 -4-1.2 -3.3-1.6 -3.3-1.9 -2.7-1.9 -3.3-2.8 -3.8-3.7 -3-3.3 -4.3-5.4 -3.3-4.6 -3.8-6.1 -6.7-12 -3.9-8 -3.9-8.7 -1-2.7 -1-2 -.3-1.3 -.4-.4 -.2-1 -.4-.6zM197.9,274.8l.1-.2 0,.5zM197.2,276.2l.1-.4 .2,.4 -.2,.3zM196.5,277.5l.2-.5 .1,.5 -.1,.4zM195.8,278.8l.2-.6 .2,.6 -.2,.5zM195.3,279.5l.3,0 -.3,1.1 -.3-.4z"/>
<path fill="#110636" fill-rule="evenodd" d="M78.1,214l14,0 3.9,9.7 4,9.1 5.3,10.1 4.7,8 2.7,3.9 5.3,7.1 3.3,3.9 3,3 3,2.7 3.6,2.7 3.7,2 3.4,1.2 3.3,.7 2.7,.2 3-.1 4.3-.6 2.7-.8 3.3-1.3 2.4-1.3 3-2.1 3.3-2.7 3.3-3.2 4-4.7 2.7-3.5 4-6 4-6.8 4-7.7 3.3-7.2 3.4-7.7 3.3-8.6 7.5,0 -7.1,20.7 -3.4,8.7 -2.6,6 -3.5,7.4 -4,7.3 -3.2,5.4 -4.1,6 -4.7,6 -3.6,4 -4,3.9 -4,3.2 -4.6,3 -4.7,2.3 -4,1.4 -4,.3 -5.3-.3 -5.4-.9 -6-1.8 -4.6-2.1 -3.4-2 -4.5-3.6 -3.2-3.4 -4.5-5.3 -2.9-4 -2.4-4.1 -5.6-10 -3.8-8 -3.3-8 -2.8-7.4zM99.9,286.2l.2,0 -.1,.7zM100.5,287.5l.2-.2 .1,.2 -.1,.5zM101.2,288.9l.1-.4 .2,.4 -.2,.3zM101.9,290.2l.1-.7 .2,.7 -.2,.3zM102.5,290.9l.2-.2 .3,.8 -.3,.2zM103.1,292.2l.2-.4 .5,1.1 -.5,0zM103.8,293.5l.2-.6 .3,.6 -.3,.5zM104.3,294.2l.4-.2 .4,.9 4,6 5.4,7.3 4.7,5.4 4.1,4 3.4,2.8 5.3,3.4 4.7,2 2,.6 3.3,.7 5.3,.1 4.7-.8 4-1.3 5.3-2.8 4.7-3.3 3.8-3.4 6.4-6.7 4.5-5.6 .3,.3 -.3,.6 -2.7,3.6 -3.2,3.8 -3.1,3.3 -4.4,4.2 -5.3,4 -4,2.2 -4.7,2 -2.6,.7 -2.7,.4 -2,.1 -2.7-.1 -4-.6 -2-.6 -3.3-1.3 -2.7-1.3 -3.3-2.1 -4.5-3.6 -4.8-4.6 -3.6-4.1 -2.6-3.3 -4.7-6.7 -2.5-4zM186.6,294.9l.1-.2 .1,.2 -.1,.2zM185.9,296.2l.1-.3 .1,.3zM185.2,296.9l.1-.2 .2,.2 -.2,.4zM184.5,298.2l.2-.4 .1,.4 -.1,.2zM183.8,298.9l.2-.2 .2,.2 -.2,.5zM183.1,300.2l.2-.6 .2,.6 -.2,.2zM182.5,300.9l.2-.3 .2,.3 -.2,.4zM181.9,301.6l.1-.2 .3,.2 -.3,.8 -.4-.2zM181,302.9l.3-.5 .3,.5 -.3,.4z"/>
<path fill="#160845" fill-rule="evenodd" d="M79.8,214l11.2,0 5.7,14 3.3,7.4 2,3.8 4.7,8.5 3.3,5.5 7.3,9.9 3.4,3.9 3.1,3.1 3,2.7 3.7,2.7 3.6,2 3.5,1.3 3.1,.7 3.3,.3 4.6-.3 2.7-.5 3-.8 3.1-1.4 3.4-2 2.7-2 3.2-2.7 3.3-3.4 4-4.7 3.3-4.5 4-6.3 3.4-5.8 3.3-6.4 3.3-7 4-9.3 3.4-8.7 6.1,0 -6.5,18.7 -3.4,8.7 -3.1,7.4 -3.6,7.3 -3.2,6 -3.2,5.4 -4.2,6 -4.8,6 -3.5,3.7 -3.3,3.1 -4.7,3.6 -5.3,3.3 -4.7,2.2 -3.3,1.1 -4,.4 -5.3-.3 -4.7-.8 -4.7-1.4 -5.3-2.4 -4-2.4 -4.7-3.8 -2.7-3 -4.9-6 -3.3-4.7 -2.8-4.6 -4.7-8.7 -3.9-8 -3.4-8.1 -3.2-8.6 -3.5-10.1zM166.5,318.9l.4,0 -.2,.2zM165.8,319.6l.2-.2 .2,.2 -.2,.1zM164.9,320.3l.4-.2 .1,.2zM126.5,320.9l.2-.1 .2,.1zM163.8,320.9l.6,0 -.4,.2zM163,321.6l.3-.2 .3,.2 -.3,.2zM128.4,322.3l.5,0 -.2,.1zM161.8,322.3l.9-.2 0,.2 -.7,.2zM129.2,322.9l.1-.1 .7,.1zM160.8,322.9l.5-.2 .3,.2 -.3,.2zM130.4,323.6l.3-.2 .4,.2 -.4,.2zM159.6,323.6l.4-.2 .6,.2 -.6,.3zM131.4,324.3l.6-.2 .3,.2 -.3,.2zM158.3,324.3l1-.3 .2,.3 -.8,.3zM132.6,324.9l.7-.1 .4,.1 -.4,.3zM156.9,324.9l1.1-.3 .2,.3 -.9,.3zM134,325.6l.7-.2 .7,.2 -.7,.2zM155.2,325.6l1.5-.4 .2,.4 -3.6,1.4 -4,.9 -4,.2 -5.4-.5 .1-.3 5.3,.2 4.7-.3 2.7-.6zM135.6,326.3l.4-.3 1.3,.3 -.6,.2zM137.5,327l.5-.3 1.9,.3 -.6,.2z"/>
<path fill="#200a5e" fill-rule="evenodd" d="M80.8,214l9.3,0 4.6,11.4 4,9 2,4.1 4.6,8.6 3.4,5.6 2.6,4.1 5.4,7 4,4.6 5.4,5.1 2.6,2 3.2,2 2.8,1.3 3.9,1.4 2.7,.4 2.7,.2 2.7-.1 4-.5 4.3-1.4 2.8-1.3 3.4-2 3.5-2.7 2.9-2.7 3.1-3.1 4-4.8 3.3-4.7 4-6.2 3.3-5.9 3.4-6.4 4-8.6 3.3-7.8 3.4-8.6 4.7,0 -6.4,18.7 -3.4,8.7 -3.3,7.4 -3.9,8 -3.3,6 -3.4,5.3 -3.3,4.7 -4.3,5.4 -3.5,3.7 -4.6,4.1 -3.4,2.4 -4.6,2.8 -4.7,2.1 -4,1.3 -4.7,.5 -4.6-.3 -4.7-.9 -4.7-1.5 -5.3-2.5 -4-2.6 -4.7-3.9 -2.9-3.2 -4.3-5.4 -3.3-4.7 -2.5-4 -4.7-8.7 -3.9-8 -3.4-8 -2.6-6.7 -3.9-11.3z"/>
<path fill="#2c0d7d" fill-rule="evenodd" d="M81.5,214l8,0 3.2,8.2 4,9.3 3.3,7.2 3.3,6.1 3.4,5.9 3.3,5.3 6,8 4,4.7 2.8,2.8 3.8,3.3 2.8,2 2.3,1.4 2.7,1.3 3.9,1.3 3,.6 2.7,.1 2.7-.1 4.1-.6 4.2-1.3 2.9-1.3 3.3-2 3.5-2.7 3.3-3 3.3-3.5 4-4.9 3.4-4.6 3.3-5.3 4-7 3.3-6.4 4-8.6 3.4-7.9 3.2-8.3 3.8,0 -6.6,18.7 -3.4,8.7 -3.3,7.4 -3.9,8 -3.4,6 -3.4,5.3 -3.3,4.7 -3.9,4.7 -3.8,4 -4,3.6 -4,2.8 -4.7,2.6 -4.7,2 -3.3,.9 -2.7,.4 -2,.1 -5.3-.4 -4-.9 -4-1.3 -4.7-2.1 -5.3-3.5 -4-3.3 -2.7-2.9 -4.4-5.3 -3.4-4.7 -2.5-4 -5.4-10.1 -3.2-6.6 -3.5-8.1 -2.6-6.6 -3.3-9.4z"/>
<path fill="#3a109f" fill-rule="evenodd" d="M82.1,214l6.8,0 3.1,7.9 4,9.4 4,8.5 2.7,4.9 4.6,8.1 2.7,4.2 3.3,4.5 6,7.2 3.4,3.4 3.1,2.7 2.7,2 3.2,2 2.8,1.4 4.2,1.3 2.6,.4 2.7,.2 4.7-.3 3.3-.7 2.7-.9 4.2-2 3.1-2 3.4-2.7 3.6-3.4 3.7-3.9 3.3-4.2 4-5.8 3.3-5.3 4-7.2 3.4-6.7 3.3-7.3 4-9.7 2.2-6 3.1,0 -2.9,8.7 -4,10.7 -2.6,6.7 -3.6,8 -3.2,6.7 -3.3,6 -3.3,5.3 -4.2,6 -3.8,4.7 -3.7,4 -3.4,3 -4.6,3.4 -4.7,2.6 -4.7,1.9 -3.3,.9 -4.7,.5 -4.6-.4 -4-.7 -4.7-1.6 -4-1.8 -3.3-2 -4.7-3.6 -3.3-3.1 -3.8-4.4 -4-5.4 -3.1-4.6 -4.8-8.7 -3.3-6.7 -3.3-7.4 -3.5-8.6 -2.6-7.4z"/>
<path fill="#4d12b3" fill-rule="evenodd" d="M82.7,214l5.7,0 6.3,15.4 3.3,7.3 2.7,5.4 5.3,9.3 4,6.3 3.3,4.5 5.4,6.5 3.4,3.4 3.8,3.4 2.7,2 3.4,2 3,1.3 2.3,.8 2.7,.6 4,.3 4.7-.3 3.3-.7 3.9-1.3 2.7-1.4 3.2-2 3.5-2.7 3.6-3.3 3.8-4 3.3-4.1 4-5.7 4-6.5 3.3-6 3.4-6.6 3.3-7.3 3.3-8 3.3-8.6 2.4,0 -3.9,11.4 -2.7,7.3 -3.3,8 -3.3,7.4 -4,8 -3.4,6 -3.4,5.4 -3.3,4.6 -3.9,4.7 -3.8,4 -3.3,2.9 -4,2.9 -4.7,2.6 -4.7,1.9 -3.3,.9 -4.7,.5 -4.6-.4 -4-.8 -4.7-1.5 -4-1.9 -4-2.5 -4.7-3.8 -2.8-2.8 -3.4-4 -4-5.3 -3.5-5.4 -4.6-8.7 -3.4-6.6 -3.2-7.4 -3.4-8.7 -2.6-7.3z"/>
<path fill="#6315c0" fill-rule="evenodd" d="M83.1,214l4.9,0 5.3,13.3 6.7,14.4 6,10.4 3.3,5.3 4,5.4 4.7,5.7 3.3,3.5 3.2,2.8 3.5,2.7 3.2,2 2.8,1.3 3.9,1.4 3.4,.6 2.7,.1 3.3-.1 4-.7 3.9-1.3 4.1-2 4.1-2.6 3.2-2.7 3.4-3.3 3.3-3.7 2.7-3.3 3.3-4.6 3.4-5.2 2.6-4.5 4-7.6 4-8.5 4-9.6 3.5-9.2 2,0 -3.7,10.7 -2.7,7.3 -3.3,8.1 -3.3,7.3 -4,8 -3.4,6.1 -3.4,5.3 -3.3,4.7 -3.8,4.7 -3.9,4 -4,3.5 -4,2.8 -4.7,2.6 -4,1.5 -4.6,1.2 -3.4,.2 -4-.3 -5.3-1 -4-1.5 -4-1.9 -4-2.6 -4-3.2 -3.3-3.2 -3.5-4.1 -3.5-4.7 -3.9-6 -3-5.4 -4.7-9.3 -3.2-7.4 -3.2-8 -2.6-7.4z"/>
<path fill="#7b17c0" fill-rule="evenodd" d="M83.6,214l3.9,0 5.8,14.3 6.7,14.2 6,10.3 3.3,5.2 3.4,4.6 4,4.9 3.7,4 3.5,3.3 3.5,2.7 3.1,2 2.6,1.3 3.6,1.4 3.3,.8 4,.3 4.7-.3 3.8-.8 3.7-1.4 3.8-1.9 3.9-2.7 3.2-2.7 3.6-3.5 3.3-3.7 2.7-3.4 3.3-4.7 2.7-4.2 3.3-5.7 3.3-6.4 4-8.5 4.7-11.3 2.9-8.1 1.7,0 -2.2,6.7 -4,10.7 -3.3,8 -3.3,7.4 -4,8 -3.3,6 -3.4,5.3 -3.3,4.7 -4.4,5.4 -3.4,3.5 -4,3.5 -4.7,3.3 -4,2.1 -4.6,1.8 -3.4,.8 -4,.4 -4-.3 -4-.7 -4-1.3 -4.6-2.1 -4-2.5 -4-3.2 -3.6-3.3 -3.4-4 -4-5.4 -3.5-5.3 -2.6-4.7 -5.3-10.7 -3.2-7.4 -3.5-8.7 -2.6-7.3z"/>
<path fill="#9318bb" fill-rule="evenodd" d="M84.1,214l2.9,0 6.3,15.3 6.7,14 6,10.2 3.3,5.1 2.7,3.7 4.7,5.7 2.6,2.9 3.4,3.3 4.1,3.3 3,2 4,2 3.9,1.3 3.6,.7 2.7,.1 3.3-.1 4.1-.7 4-1.3 4.2-2 3.1-2 4.1-3.3 3.9-3.7 3.3-3.7 2.7-3.4 3.3-4.7 3.3-5.3 2.7-4.6 4.7-9.2 4-8.8 4-10 2.4-6.8 1.4,0 -3.5,10 -3.3,8.7 -3.4,8 -3.3,7.4 -3.8,7.3 -3.5,6.1 -3.4,5.3 -3.9,5.3 -4,4.7 -3.7,3.7 -4,3.3 -4,2.7 -4,2.1 -3.4,1.2 -3.3,.9 -2.7,.4 -2,.1 -4-.3 -4.6-.9 -4-1.4 -4.7-2.3 -4-2.6 -4-3.3 -3-2.9 -3.4-4 -3.9-5.4 -3.4-5.3 -2.6-4.7 -5.3-10.7 -3.5-8 -3.3-8.7 -2.6-7.3z"/>
<path fill="#a918af" fill-rule="evenodd" d="M84.7,214l1.7,0 7.6,17.7 4,8.4 2.7,5.1 5.3,8.9 3.3,5.1 2.7,3.6 4,4.9 3.3,3.7 3.6,3.4 4.3,3.4 3.1,2 2.6,1.3 3.5,1.3 3.6,.9 4,.3 4.7-.3 4-.9 3.6-1.3 2.7-1.3 4.2-2.7 3.4-2.7 4.1-3.9 3.3-3.7 3.3-4.3 3.4-4.8 3.3-5.4 3.3-6 3.4-6.6 3.3-7.4 4.1-10 3.2-8.7 1,0 -6,16.7 -3.3,8 -3.9,8.7 -3.4,6.7 -3.4,6 -3.9,6 -3.4,4.7 -3.8,4.7 -3.9,3.9 -3.3,3 -4,2.8 -3.3,2 -4.7,2 -4.7,1.3 -4,.3 -4-.2 -4-.8 -5.3-1.9 -4-2 -4-2.7 -4-3.3 -3.1-3.1 -3.3-4 -3.9-5.3 -3.4-5.4 -3.2-6 -4.9-10 -3.1-7.4 -3.3-8.7 -2.5-7.3z"/>
<path fill="#bc1a9a" fill-rule="evenodd" d="M201.2,214.7l.1-.3 .4,.3 -.2,1.3 -.5,.7 -.2,1.3 -.4,.7 -.3,1.3 -1.9,5.4 -4,10 -3.8,8.7 -3.9,8 -2.9,5.3 -3.2,5.4 -4.7,6.7 -3.2,4 -3.8,4.2 -4,3.7 -3.4,2.5 -4,2.5 -4.6,2.2 -4,1.2 -4,.6 -4-.1 -4-.6 -4-1.1 -4.7-2.1 -3.3-1.9 -4.7-3.5 -3.9-3.6 -2.9-3.3 -5-6.7 -3.8-6 -2.2-4.1 -4-8 -3.8-8.7 -3.1-8 -2.6-7.6 -1.6-5.8 0-.6 .2-.3 9.9,21 2.8,5.5 2.7,4.5 4,6.5 3.3,4.9 7.3,9 3.4,3.4 3.3,3 4.5,3.3 3.6,2 3.2,1.3 4,1.1 2.7,.4 4,0 4-.5 3.9-1 3.3-1.3 3.7-2 3.8-2.7 3.1-2.6 3.5-3.6 3.4-3.8 4-5.3 2.6-4 4-6.7 3.4-6.2 6.1-13.2 4.1-10 1.6-4.7 .5-.7zM201.7,214l.4,0 -.1,.3z"/>
<path fill="#cb277e" fill-rule="evenodd" d="M200.6,217.3l.1-.2 0,.4zM199.9,219.3l.1-.5 0,.7zM199.3,220.7l0-.2 0,.9zM198.6,222.7l.1-.4 0,1zM198,224l.1,.7 -.1,.4 -.2-.4zM197.2,226l.1-.3 .2,.3 -.2,.9 -.1-.2zM196.6,227.4l.2,0 0,.6 -.1,.7 -.2-.7zM91.3,229.4l.2,.6 -.2,.4zM195.8,229.4l.2-.5 .2,.5 -.2,1 -.3-.4zM91.6,230.7l.4-.2 8,15.4 7.3,11.7 4.7,6.5 6.7,7.6 3.1,3.1 3.3,2.7 2.7,2 3.4,2 3,1.3 3.8,1.2 2.7,.5 2.6,.2 3.4-.1 3.7-.4 2.6-.7 3.6-1.3 2.7-1.4 4.1-2.6 2.6-2 4-3.8 3.3-3.6 2.7-3.2 3.3-4.7 2.8-4.1 3.9-6.7 2.8-5.4 2.7-5.3 2.5-5.8 .3-.2 .4-1.3 .3,.6 -1.6,4 -3.2,7.4 -3.3,6.7 -3.2,6 -4.1,6.7 -2.7,4 -3.1,4 -3.4,4 -3.7,3.7 -3.4,2.8 -4.6,3.2 -2.7,1.5 -2.7,1.2 -4,1.3 -4,.7 -2.6,.1 -3.4-.3 -3.3-.6 -4-1.2 -4-1.9 -3.3-1.9 -4-3 -3.4-3 -3.1-3.3 -2.6-3.3 -3.8-5.4 -2.9-4.6 -2.6-4.7 -4.5-9.4 -2.6-6 -2.5-6.7zM195.2,230.7l.1-.2 .3,.2 -.3,1.4 -.2-.1z"/>
<path fill="#db4165" fill-rule="evenodd" d="M193.3,236.1l0-.2 0,.3zM192.6,237.4l.1-.1 0,.4zM95.9,240.1l.1-.1 .7,1.1 3.6,6.3 6.4,9.9 3.3,4.8 6,7.3 3.3,3.5 2.7,2.6 3.3,2.7 5.2,3.3 4.5,2 2.3,.7 4,.8 2.7,.1 4.5-.3 3.5-.6 2.1-.7 3.3-1.3 2.5-1.4 4.9-3.3 5.2-4.7 5.3-6 3.5-4.7 2.7-4 4.1-6.7 2.4-4.6 .3,.6 -1.6,3.4 -3.2,6 -3.3,5.3 -2.6,4 -5.8,7.4 -3.1,3.4 -3.4,3.1 -3.3,2.6 -2.7,1.8 -2.6,1.6 -4,1.8 -2.7,.9 -3.3,.7 -2.7,.2 -3.3-.1 -3.4-.5 -4-1.1 -3.3-1.3 -2.7-1.4 -3.3-2 -2.7-2.1 -2.6-2.3 -3.4-3.3 -2.2-2.7 -3.4-4.7 -2.7-4 -3.2-5.3 -2.7-5.4 -3.8-8.5 -1.3-3.5zM191.3,240.1l0,.9 -.1-.3zM190.5,242.1l.2-.6 .1,.6 -.1,.3zM189.8,243.4l.2-.6 .2,.6 -.2,.5zM189.1,244.7l.2-.5 .2,.5 -.2,.7zM188.4,246.1l.3-.6 .2,.6 -.2,.7 -.5,0z"/>
<path fill="#f07040" fill-rule="evenodd" d="M100.3,249.4l.4-.1 .6,.8 7.3,10.7 3.4,4.4 5.3,6.2 4.3,4.1 5,4 4.5,2.7 4.8,2 2.5,.6 2.9,.5 4.7,.1 4.7-.6 2.3-.6 3.6-1.4 4.9-2.6 4.5-3.4 5.3-5.1 4.8-5.6 3.5-4.6 2.4-3.8 .3,.4 -1.5,2.7 -2.6,4 -3.4,4.7 -2.7,3.3 -4.8,5.1 -4.6,3.9 -5.4,3.5 -2.6,1.3 -3.4,1.3 -2.6,.8 -3.4,.5 -4.6,0 -3.4-.5 -3.3-.9 -3.3-1.3 -2.7-1.3 -3.3-2 -2-1.5 -5.4-4.7 -4.3-4.9 -6-8.6 -2.7-4.7 -1.7-3.4 -1.9-4.3zM184.6,253.4l.2,0 -.1,.7zM183.9,254.8l.1-.3 .2,.3 -.2,.4zM183.1,256.1l.2-.5 .2,.5 -.2,.3zM182.6,256.8l.1-.2 .2,.2 -.2,.9 -.3-.3z"/>
<path fill="#f89138" fill-rule="evenodd" d="M102.6,253.4l.1-.1 .6,.7 5.8,8.1 3.6,4.5 5.3,5.9 4.6,4.3 4.5,3.4 4.6,2.6 3.3,1.4 2.2,.6 2.8,.6 4,.3 3.3-.1 2-.3 4.6-1.1 4.7-2 4.1-2.5 4-3.2 4.6-4.4 3.6-4 1.1-1.4 .3,.1 -.3,.7 -2.7,3.5 -5.3,5.9 -4.7,4.1 -5.3,3.6 -5.3,2.6 -4.7,1.3 -4.7,.5 -5.3-.5 -4.7-1.3 -3.3-1.4 -2.7-1.3 -4.6-3.2 -5.1-4.5 -2.5-2.6 -2.2-2.7 -4.6-6.7 -4.3-7.4 -1.3-3.1zM178.6,263.5l.1-.2 0,.3zM177.9,264.1l.2,0 -.1,.4zM177.1,265.5l.2-.5 .1,.5 -.1,.1zM176.5,266.1l.2-.2 .2,.2 -.2,.4z"/>
<path fill="#f8ab37" fill-rule="evenodd" d="M105.8,259.4l.2-.6 4.1,5.3 5.9,6.7 3.2,3.4 3,2.6 3.4,2.7 3.1,2 3.8,2 3.6,1.3 3.9,.9 4,.3 4.7-.3 3.9-.9 3.4-1.2 4-1.9 4-2.7 4-3.2 .3,.4 -3.6,3.4 -4.3,3.2 -3.7,2.3 -4.7,2 -3.3,1 -4,.6 -4.7-.2 -4-.8 -4-1.3 -4-1.9 -4-2.6 -4.7-3.8 -4-4.1 -3-3.9 -4.4-6.6zM171.2,272.8l.1-.1 .1,.1zM170.5,273.5l.2-.2 .1,.2 -.1,.1zM169.8,274.2l.2-.3 .2,.3 -.2,.2zM169.1,274.8l.2-.2 .3,.2 -.3,.3zM168.3,275.5l.4-.3 .3,.3 -.3,.3z"/>
<path fill="#f8d230" fill-rule="evenodd" d="M109.9,265.5l.1-.6 8.1,8.6 5.2,4.7 2.8,2 3.2,2 2.7,1.4 3.3,1.3 2.7,.7 3.3,.5 2.7,.2 3.3-.2 2.7-.4 2.7-.6 4-1.4 3.3-1.7 .7-.1 .1,.3 -3.1,2 -3,1.6 -3.4,1.3 -3.3,.9 -3.3,.4 -2.7,0 -4-.5 -3.3-.9 -3.4-1.2 -4-2 -3.3-2.3 -3.3-2.7 -3.4-3.2 -2.6-2.9 -2.9-3.9zM161.9,280.8l.7,0 -.6,.2zM161,281.5l.3-.2 .4,.2 -.4,.2z"/>
<path fill="#f8f238" fill-rule="evenodd" d="M113.1,269.5l.2-.2 .2,.2 -.2,.5zM113.4,270.1l.6-.2 6.7,6.5 5.3,4.1 4,2.5 4.7,2 4,1 4,.5 5.3-.2 6-1.1 .4,.3 -3.3,1.4 -2.4,.6 -4,.6 -2.7,0 -3.3-.4 -2.7-.6 -2.7-.8 -5.3-2.5 -2.6-1.6 -2.6-2 -3.1-2.7 -2.6-2.7 -1.8-2zM154.5,284.8l.8-.1 .4,.1 -1,.2z"/>
<path fill="#fafa64" fill-rule="evenodd" d="M119.9,276.8l.1-.1 .2,.1zM120.5,277.5l.2-.3 .4,.3 -.4,.1zM121.2,278.2l.1-.5 4.7,3.3 4.7,2.8 5.3,2 2.7,.7 2.6,.3 7.4-.1 .9,.2 -1.6,.2 -1,.4 -3,.3 -4-.2 -3.7-.7 -3.9-1.4 -4-2 -3.2-2z"/>
</g></g>
<clipPath id="cpd"><rect x="318.5" y="213.1" width="182.0" height="143.9"/></clipPath>
<rect x="318.5" y="213.1" width="182.0" height="143.9" fill="#000"/>
<g clip-path="url(#cpd)"><g filter="url(#bl)">
<path fill="#060311" fill-rule="evenodd" d="M318.5,213.1l14.2,0 4.5,12.7 4,10.6 4,9.9 4,9 4,8.1 8.6,14.1 2.7,3.9 2,2.7 8,9.6 3.7,3.7 3.3,2.7 4.3,2.7 3.3,1.3 2.5,.7 2.2,.3 6.7,.3 -.7,.9 -.8,.5 .2,.4 .6,.3 3.4-.6 2-.7 3.4-2.1 2.7-2 3.8-3.3 3.4-3.5 3.3-3.9 4-5.3 4.7-6.9 4-6.5 14.3-25.5 3-5 9.4-19.8 4.1-9.3 1.7,0 -9.4,26.8 -5.8,14.5 -2.2,6.2 -2.7,6.7 -4,8.7 -4.2,8 -3.9,6.7 -4,6.1 -4.6,6 -4.7,5.3 -4.3,4.2 -5.4,4.2 -4.6,2.7 -6,2.5 -5.4,1.4 -2.6,.4 -2,0 -5.4-.3 -6-1.3 -4.6-1.9 -4-2.3 -2.7-2.6 -4.1-5 -4.2-5.3 -2.8-4 -2.4-4 -1.8-3.5 -5-7.9 -5.3-9.4 -4.8-9.4 -5.2-11.3 -7.5-18.1 -6.6-18.7 -.3-.9zM354,213.1l11.1,0 5.4,8.8 6,8.6 4.7,5.7 5.5,5.7 3.1,2.7 2.7,2 4.6,2.6 3.5,1.4 3.2,.6 2.7,.1 2-.1 3.2-.6 3.5-1.4 2.5-1.3 3-2 2.6-2 2.5-2.4 4.7-5.1 5.3-7.2 4.7-7.5 4.7-8.6 11.8,0 -6.1,12 -3.4,6.1 -3.3,5.3 -5.3,7.4 -5.4,6 -2.3,2.3 -3.4,2.7 -4,2.7 -2.6,1.5 -2.7,1.1 -3.3,.9 -3.4,.6 -3.3,.2 -3.3-.2 -3.4-.6 -3.3-.8 -3.3-1.2 -3.4-1.6 -3.3-2 -2.7-1.8 -4-3.3 -4-3.8 -3.2-3.4 -6.5-8 -3.9-5.4 -3.5-5.3z"/>
<path fill="#09041b" fill-rule="evenodd" d="M318.9,213.1l12.1,0 3.5,9.9 4.7,12.3 4,9.9 3.3,7.5 3.3,7.1 3.4,6.5 9.3,15 3.3,4.6 4,4.9 4.3,4.6 3.6,3.4 4.7,3.3 4,2 4.8,1.5 3.4,.5 -.7,.7 -4.6,.7 1.2,.6 2.7,.7 2.6,.2 3.9-.2 3-.7 2.5-.8 4.1-2.5 3.4-2.7 4.3-4 3.5-3.8 4-4.9 4.7-6.6 4-6.1 18.6-31.7 6.7-14.4 6.7-15.7 .2,.2 .1,.7 -2,6 -5.2,14.1 -6.5,15.8 -3.5,9.6 -3.4,8 -3.4,7.4 -3.4,6.7 -4,6.7 -4,6 -4,5.3 -4.6,5.4 -5,4.9 -4.7,3.6 -5.3,3.2 -5.3,2.1 -4.7,1.1 -4.7,.4 -3.3-.2 -3.3-.6 -4.7-1.4 -4.7-2.2 -4-2.5 -2-1.8 -3-3.3 -3.9-4.6 -4.8-6.7 -2.6-4 -8.8-15.4 -5.2-10.1 -4.8-10 -4.7-10.7 -4.5-11.4 -3.3-8.7zM355.4,213.1l8.4,0 5.4,8.7 6,8.7 5.3,6.6 5.3,5.4 4.9,4.1 3,2 2.4,1.3 3,1.4 2.4,.6 3,.4 2,.1 4.3-.5 2.3-.6 3.1-1.4 2.4-1.3 2.9-2 2.5-2 2.5-2.4 4.7-5.1 5.3-7.3 5.3-8.6 4.4-8.1 9.6,0 -5.7,11.4 -5.9,10 -4.6,6.7 -3.2,4 -3.2,3.5 -3.4,3.2 -2.6,2.1 -3.4,2.3 -3.3,1.9 -3.3,1.2 -2.7,.8 -2.7,.4 -3.3,.2 -2.7-.1 -3.3-.5 -4.7-1.3 -3.3-1.3 -2.7-1.4 -3.3-2.1 -3.3-2.4 -2.7-2.3 -6.2-6.2 -3.5-4 -3.2-4 -3.4-4.7 -4-6zM465.7,213.8l.1-.4 .2,.4 -.2,1 -.2-.4z"/>
<path fill="#0d0528" fill-rule="evenodd" d="M320,213.1l10.2,0 4.3,12.2 4.7,12.1 4.6,11.1 4,8.7 5.4,10.4 6,9.9 5.3,7.9 2.7,3.4 3.3,3.8 2.6,2.8 2.9,2.7 2.5,2.1 4,2.6 4.7,2.3 1.1,.4 -.5,.3 -.6,0 -4-.5 -.2,.2 .8,.6 3.7,2 1.9,.7 3.8,.8 3.3,.1 3.3-.3 4.7-1.2 2.8-1.4 4-2.7 3.9-3.3 4-4 4-4.7 4.6-6.2 5.4-8 14-23.3 5.3-9.7 8.7-19.6 .3,.5 -.1,.7 -.4,.7 -.3,1.3 -1.3,3.3 -3.9,10.1 -3.7,8.6 -4.2,10.8 -5.3,12 -3.6,7.4 -3.8,6.7 -3.3,5.3 -4.3,6.1 -4.3,5.3 -5.2,5.4 -4,3.5 -5.3,3.6 -5.3,2.6 -4.7,1.5 -4.7,.6 -4-.1 -4.6-.8 -5.4-1.8 -4-2.1 -4.6-3.2 -3.1-3.2 -4-4.6 -4-5.4 -2.7-4 -10.7-18.7 -4.5-8.7 -4.7-10.1 -4.6-10.7 -4.8-12 -3.3-8.7zM356.4,213.1l6.6,0 6.2,10.1 6.6,9.4 2.7,3.3 3.3,3.7 3.7,3.6 3.1,2.7 4.8,3.3 3.8,2.1 3.9,1.3 2.7,.4 2.7,.2 4.6-.6 3.9-1.3 3.8-2.1 4.6-3.3 5.1-4.8 3.3-3.8 2.7-3.5 3.3-4.8 3.4-5.4 5.7-10.5 8.2,0 -6.2,12 -5.5,9.4 -5.2,7.4 -2.8,3.3 -2.9,3.1 -2.7,2.6 -3.3,2.7 -4,2.7 -2.7,1.4 -3.3,1.2 -2.7,.6 -5.3,.5 -3.3-.1 -2.7-.5 -4-1.1 -3.3-1.3 -2.7-1.3 -3.3-2.1 -2.7-1.9 -3.3-2.8 -7-7 -6.1-7.4 -3.3-4.7 -4.1-6zM463.1,221.1l.1-.3 0,.6zM462.4,222.5l.1-.3 .1,.3 -.1,.9 -.2-.3zM461.8,223.8l.1,0 .2,.7 -.3,.7 -.2-.1 0-.6z"/>
<path fill="#110636" fill-rule="evenodd" d="M320.8,213.1l8.8,0 3.6,10.1 4.6,12.1 4.7,11.3 4,8.8 6.7,13.1 6.6,10.8 4.7,6.8 4.7,5.7 4.7,5 3.9,3.4 3.7,2.6 .3,.4 .8,.3 -.1,.1 -.7,0 -3.3-1.1 -.2,.3 1.4,1.3 2.7,2 3.7,2 3.8,1.4 1.9,.3 4,.4 4-.3 2.7-.4 2.7-1 4.1-2.4 3.6-2.6 3.7-3.4 3.9-4 4-4.8 4-5.4 4-5.9 4.7-7.4 7.3-12.1 4-7.2 3.3-6.3 4.3-9.1 .2-.7 .5-.7 .4-1.2 .3,.6 -2,5.3 -7.2,17.4 -4.7,10.7 -4.2,8.7 -3.2,6 -4,6.7 -4.1,6.1 -4.1,5.3 -4.8,5.4 -4,3.7 -4,3.1 -4.7,2.8 -4.7,2 -4.6,1.3 -4,.4 -4.7-.3 -4.7-1.1 -4-1.5 -4.6-2.7 -4-2.9 -2.9-2.8 -3.4-4 -4-5.4 -2.8-4 -2.8-4.7 -7.8-14 -4.8-9.4 -3.8-8 -4.7-10.8 -4.8-12 -4.5-12.1zM357.1,213.1l5.2,0 6.2,10.2 6.7,9.4 6,7.1 3.4,3.4 3.1,2.7 4.6,3.3 5,2.7 4.1,1.4 4.4,.4 2.7-.1 2.2-.3 4.1-1.4 2.7-1.3 2.2-1.4 4.6-3.3 2.9-2.6 2.6-2.9 5.4-6.6 2.6-3.9 4-6.4 5.7-10.4 6.9,0 -6.1,12 -4.7,8.1 -2.7,4 -2.9,4 -3.4,4 -2.5,2.7 -2.3,2.2 -3.3,2.8 -4,2.7 -2.7,1.4 -3.3,1.3 -2.7,.6 -5.3,.6 -2.7-.1 -3.3-.6 -4-1.1 -3.3-1.3 -2.7-1.4 -3.3-2.1 -2.7-1.9 -3.3-2.9 -6.8-6.9 -2.8-3.3 -4.2-5.4 -5.9-8.7zM459,231.2l.2-.4 0,.7zM458.4,232.5l.1-.3 .2,.3 -.2,.9 -.2-.2zM457.8,233.8l.2,0 0,.7 -.2,.6 -.2-.6z"/>
<path fill="#160845" fill-rule="evenodd" d="M321.4,213.1l7.7,0 8.1,21.5 4.6,11.3 4,8.9 4,8.1 3.4,6.2 5.3,8.7 4.6,6.9 2.7,3.6 3.4,4 6.9,7.1 -.3,.4 -1.3-.6 -.4,.2 .4,.7 1.9,2 3.3,2.7 2.9,2 2.5,1.3 4.1,1.5 4,.8 4.6,.3 3.4-.4 2.6-.7 3.1-1.5 3.2-2 3.5-2.6 3.7-3.4 3.2-3.3 4-4.8 4-5.3 3.3-4.8 4.7-7.2 5.3-8.7 6-10.8 3.8-7.3 .5-.7 .4-1 .3,.4 -.1,.6 -.5,.7 -.8,2.7 -2.5,6 -4.8,10.7 -3.8,8 -3.5,6.7 -3.9,6.7 -3.9,6.1 -4,5.3 -4.6,5.4 -4.6,4.6 -4,3.2 -4,2.6 -5.3,2.5 -4.7,1.4 -4.6,.6 -4.7-.4 -3.3-.7 -4-1.4 -4-2 -4-2.7 -2.7-2.2 -3.2-3.5 -3.8-4.7 -3.4-4.7 -3.4-5.4 -10-18 -4.7-9.4 -4-8.7 -4.5-10.7 -4-10 -3.9-10.8zM357.7,213.1l4,0 6.1,10 6.7,9.5 6,7.2 5.7,5.4 5.3,4 4.7,2.7 4.3,1.6 2,.4 3.3,.3 4-.3 2.7-.6 2-.8 2.8-1.2 2.2-1.4 3-2 2.5-2 2.8-2.7 2.7-2.8 2.7-3.2 3.3-4.6 6-9.3 5.5-10.2 5.9,0 -5.8,11.4 -6,10 -5.3,7.4 -5,5.6 -5.3,4.8 -2.7,1.9 -3.3,2 -3.3,1.3 -2.7,.8 -3.3,.6 -2.7,.1 -2.7-.1 -3.3-.5 -4.7-1.4 -2-.8 -2.6-1.4 -3.4-2 -2.6-1.9 -3.4-2.8 -6.1-6.2 -6.2-7.4 -3.4-4.7 -4-6zM455.8,239.2l0-.1 0,.3zM455.1,240.5l.1-.1 0,.8zM454.5,241.9l0,.9 -.2-.3zM453.6,243.9l.2-.6 .2,.6 -.2,.5zM452.9,245.2l.3-.5 .2,.5 -.2,.9 -.3-.2zM376.3,300.1l.2-.1 .3,.1z"/>
<path fill="#200a5e" fill-rule="evenodd" d="M322,213.1l6.9,0 4.3,12 5.2,13.4 4.6,10.7 5.3,11.4 4.6,8.7 7.6,12.1 5.2,7.3 5,6.1 -.2,.4 -.8-.4 .1,.6 2.7,3.4 1.9,2 4.7,4 2.9,2 2.5,1.4 3.3,1.4 2.7,.8 4.7,.9 2,.1 4-.5 2.3-.8 3-1.3 3.3-2 3.6-2.7 4.5-4 2.6-2.7 4-4.7 4-5.2 4.7-6.8 8.6-14 8.7-16.1 .1,0 .2,.7 -.2,.6 -5.8,13.4 -5.2,10.7 -4,7.4 -4,6.7 -4.1,6 -4.6,6 -4.3,4.7 -5.4,5 -2.7,2 -3.3,2.1 -2.7,1.3 -3.3,1.3 -2.7,.8 -4,.6 -2.7,.1 -3.3-.4 -4-.9 -2.7-1 -2.6-1.2 -3.4-2 -2.6-1.9 -2.7-2.2 -3.3-3.6 -3.2-4 -5.2-7.4 -3.9-6.7 -9.4-17.4 -6-12.7 -6-14 -5.9-15.4zM358.2,213.1l3,0 6.6,10.8 6,8.4 6,7.3 5.8,5.6 3.3,2.7 2.9,2 4.9,2.7 3.8,1.3 3.3,.6 2,.1 2.7-.1 2.7-.5 4.2-1.4 2.7-1.3 3.2-2.1 4.3-3.3 2.8-2.7 2.8-3 5.3-6.9 6-9.3 6-10.9 4.9,0 -5.8,11.4 -5.5,9.3 -5.3,7.4 -5.3,6 -2.3,2.3 -3.4,2.7 -2.6,1.9 -2.7,1.6 -2.7,1.2 -2.6,.8 -3.4,.7 -3.3,.2 -2.7-.1 -2.6-.4 -4-1.1 -3.4-1.3 -2.6-1.3 -3.4-2.1 -2.6-1.9 -3.4-2.9 -6.2-6.3 -6-7.4 -6.1-8.7zM450.9,249.9l.3-.6 .1,.6 -.1,.5zM370.7,295.4l.5-.2 .1,.2 -.1,.3z"/>
<path fill="#2c0d7d" fill-rule="evenodd" d="M322.4,213.1l6.1,0 5.1,14.1 4,10 5.3,12.7 3.4,7.4 3.9,8 2.3,4.2 .1,.5 1.9,2.4 3.8,6.3 3.6,5.3 .2,.7 -.4,.7 .1,.3 .7-.5 .1,.2 -.1,.4 -.3,.3 .2,.6 2.8,4 2.6,3.4 4.9,5.3 5,4.7 2.8,2 3.4,2 3.3,1.6 4.6,1.8 3.4,.4 3.3-.2 2.7-.5 3.3-1.1 3.9-2 3-2 4.1-3.3 3.6-3.4 4.1-4.5 3.3-4.2 6.7-9.4 4.6-7.4 4.7-7.9 5.7-10.7 .6-.7 .4-1.1 .2,.4 -.1,.7 -.4,.7 -.1,.6 -3.9,8.7 -5.9,12.1 -4.1,7.3 -4.1,6.7 -4.7,6.7 -3.7,4.7 -4.3,4.7 -2.9,2.8 -2.7,2.3 -2.7,1.9 -3.3,2 -2.7,1.3 -4,1.5 -2.6,.6 -3.4,.4 -2.6,0 -3.4-.5 -2.6-.6 -3.4-1.2 -2-.9 -3.3-1.9 -2.7-1.9 -3.3-2.7 -2.2-2.4 -3.3-4 -6.2-8.7 -3.9-6.7 -9.3-17.4 -5.4-11.4 -6-14.1 -6.7-17.4zM358.7,213.1l2,0 6.2,10 6.1,8.7 6.2,7.6 5.9,5.8 3.2,2.7 2.8,2 4.8,2.7 4.6,1.6 2,.4 3.3,.3 4.3-.3 4.6-1.3 2.8-1.4 2.3-1.3 3-2 2.5-2 2.9-2.7 3-3.2 5.3-6.8 6.7-10.3 5.7-10.5 4.1,0 -6.2,12 -5.2,8.7 -4.7,6.7 -2.8,3.4 -3.1,3.3 -2.5,2.4 -3.3,2.7 -2.7,1.8 -2.7,1.5 -3.3,1.4 -2.7,.7 -3.3,.5 -2.7,.1 -2.6-.2 -2.7-.5 -4.7-1.4 -2.6-1.2 -2.7-1.4 -3.3-2.2 -5.2-4.2 -6.5-6.7 -5.9-7.3 -6.5-9.4zM449.7,252.6l.1-.3 .2,.3 -.2,.7zM362.9,286.1l.3-.1 0,.4z"/>
<path fill="#3a109f" fill-rule="evenodd" d="M322.9,213.1l5.3,0 7.9,21.4 7.7,19.4 2.7,6 6,12.1 2.3,3.3 2.4,4.1 4.6,7.4 4,5.4 3.4,3.9 3.8,4 2.8,2.7 5.4,4.1 4.6,2.6 2,1.3 1.7,.7 3.4,.7 3.6,.1 3.3-.4 3.9-1.1 2.9-1.3 3.4-2 3.7-2.7 3-2.7 3.1-3 3.4-3.7 6.6-8.7 5.4-8 3.3-5.5 8.7-15.5 .3,.2 -.1,.7 -1.4,3.4 -4.5,9.3 -4.5,8.7 -3.6,6.1 -3.8,6 -3.3,4.7 -4.9,6 -3.6,3.9 -2.6,2.5 -3.4,2.8 -2.6,1.9 -3.4,1.9 -3.3,1.5 -3.3,1.2 -2.7,.5 -2.7,.3 -3.3-.1 -3.3-.5 -2.7-.7 -3.3-1.3 -2.7-1.4 -3.3-2.1 -4.6-3.7 -2.5-2.7 -3.2-4 -6.1-8.7 -3.9-6.7 -8.9-16.7 -6-12.8 -5.9-14 -5.9-15.4zM359.3,213.1l.8,0 .4,.5 2.4,4.2 3.9,6 6.7,9.4 6.2,7.3 4.1,4.1 3.4,2.8 2.6,2 5.4,3.2 3.2,1.3 2.2,.7 3.2,.5 2.7,.1 5-.6 2.2-.7 3.2-1.3 5.5-3.4 4.1-3.3 5.3-5.5 2.7-3.3 3.3-4.6 6-9.5 5.4-9.9 3.5,0 -5.8,11.4 -6,10 -5.5,7.4 -4.9,5.3 -3.3,3.1 -2.7,2.1 -2.7,1.8 -2.6,1.4 -3.4,1.3 -2.6,.6 -2,.3 -3.4,.2 -4.6-.5 -4-1.1 -3.4-1.4 -2.6-1.4 -3.4-2.1 -2.9-2.3 -3.1-2.6 -2.7-2.7 -3.9-4.4 -6-7.6 -6-8.8zM448.5,255.3l0,.8 -.1-.2zM447.7,256.6l.1-.2 .2,.2 -.2,1 -.3-.3z"/>
<path fill="#4d12b3" fill-rule="evenodd" d="M323.3,213.1l4.5,0 3.5,10 5.2,14.1 4,10.1 4.7,10.6 4,8.3 3.3,6.3 7.3,11.7 2.7,4 4,5.2 7.5,8 3.2,2.9 7.9,5.8 3,1.4 2.4,.7 4.7,.4 4.6-.4 2.9-.7 3.3-1.4 3.5-2 2.9-2 3.3-2.6 3.5-3.3 2.6-2.9 3.4-4 4-5.3 6.6-10 4-6.7 6-10.7 .2,0 .1,.7 -.3,.5 -.2,.2 -1,2.6 -3.2,6.7 -3.9,7.4 -4.7,8 -3.9,6 -3.4,4.7 -3.3,4 -4.4,4.9 -5.3,4.8 -2.7,2 -3.3,2 -2.7,1.4 -4,1.5 -2.6,.6 -3.4,.4 -2.6,0 -3.4-.5 -2.6-.6 -3.4-1.3 -2.6-1.3 -2.7-1.6 -2.7-1.9 -2.8-2.3 -3.1-3.4 -3.2-4 -6-8.7 -3.1-5.3 -8.9-16.8 -6-12.7 -5.9-14 -5.9-15.4zM449.1,213.8l.3-.7 3,0 -6.2,12 -2.7,4.7 -3.9,6.1 -4.5,6 -5.3,5.7 -4.6,4 -2.7,1.8 -2.7,1.6 -4.6,1.8 -4,.8 -4.7,.1 -4.7-.8 -4.6-1.6 -2.7-1.3 -2.5-1.4 -3.7-2.7 -3.2-2.7 -2-2 .1-.4 5.3,4.1 4,2.6 4,2 3.3,1.2 4,.7 4.7,0 3.9-.8 3.6-1.3 3.8-2 4.8-3.4 4.3-4 4.3-4.7 4-5.3 4-6 4-6.7zM382.5,244.6l0-.2 .3,.2zM447.1,258.6l.1-.4 0,.6zM446.3,260l.2-.7 .2,.7 -.2,.3z"/>
<path fill="#6315c0" fill-rule="evenodd" d="M323.7,213.1l3.6,0 6.5,18.2 6.6,16.6 6,13.4 6.6,12.7 8.7,13.4 3.5,4.7 3.3,3.9 5.3,5.6 4,3.6 2.1,1.6 2.2,2 3.4,2 3.7,1.4 3.3,.5 4,.2 3.3-.4 3.7-1 3-1.4 3.5-2 3.7-2.6 3.1-2.7 3.7-3.7 2.7-3 4.6-5.9 3.4-4.7 4-6.1 7.5-12.8 1-2 .1-.1 .4,.1 -.4,1.3 -4.3,8.8 -3.3,6 -4,6.7 -4,6 -4,5.4 -3.4,4 -3,3.2 -2.6,2.5 -3.4,2.8 -2.6,1.9 -3.4,2 -3.3,1.5 -3.3,1.2 -4.7,.8 -2.7,.1 -2.6-.3 -3.4-.7 -3.3-1.2 -2.7-1.2 -2.6-1.6 -2.7-1.8 -3.3-2.7 -2.4-2.5 -2.7-3.3 -2.5-3.4 -4.1-6 -4-6.7 -8.7-16.7 -6-12.8 -5.6-13.4 -6.1-16zM449.6,213.1l2.6,0 -5.4,10.7 -5.2,8.7 -4.2,6 -3.8,4.7 -5.1,5.3 -4,3.3 -4,2.6 -2.7,1.2 -4,1.3 -4,.6 -3.3-.1 -4-.6 -4.5-1.5 -2.9-1.4 .1-.2 .6,0 3.4,1.2 3.3,.6 4,.2 3.3-.3 3.4-.8 3.4-1.3 2.5-1.4 4.1-2.7 3.3-2.6 3.3-3.3 3.4-3.8 3.3-4.3 4-5.9 3.3-5.4zM394,253.3l.5-.2 .5,.2 -.5,.1zM445,262.6l.2-.4 .1,.4 -.1,.3zM444.5,263.3l.2,.7 -.2,.4 -.3-.4z"/>
<path fill="#7b17c0" fill-rule="evenodd" d="M324.4,213.1l2.5,0 6.7,18.7 7.3,18.1 4.5,10.1 7.5,14.7 1.6,2 3.8,6 4,6 5.3,6.7 4.9,5.2 6.3,6.2 2.5,2 3.5,2 3.4,1.4 3,.7 4,.3 4.3-.4 2.8-.6 3.4-1.4 3.7-2 2.9-2 3.3-2.7 2.9-2.7 6-6.6 2.7-3.5 4.6-6.5 4.8-7.4 4.8-8.1 .4-.9 .4,.3 -.2,.6 -1.3,2.7 -3.9,7.4 -6.5,10.7 -2.8,4 -4.1,5.3 -6.2,7 -5.4,4.6 -4,2.8 -2.6,1.5 -3.4,1.4 -3.3,1.1 -2.7,.5 -2.6,.3 -2.7-.2 -3.3-.6 -2.7-.7 -3.3-1.3 -2.7-1.5 -2.7-1.7 -2.6-2 -2.7-2.4 -2.5-2.7 -3.1-4.1 -6-8.7 -3.5-6 -8.2-16 -6-12.9 -6-14.5 -5.4-14.1zM449.5,213.8l.4-.7 2.1,0 -5.1,10 -4.7,8.1 -2.6,4 -4,5.3 -4,4.7 -3.8,3.6 -3.3,2.7 -3.3,2.2 -2.7,1.4 -3.3,1.2 -3.4,.7 -4,.2 -4.6-.6 -.7-.4 -1.2-.3 4.5,.1 2.7-.2 2.7-.4 2.6-.8 3.3-1.3 3.5-2 2.9-2.1 2.5-2 2.8-2.6 3-3.2 5.4-6.8 4-6 3.3-5.5zM443.7,265.3l.1-.3 0,.5zM443,266.6l.2-.6 .1,.6 -.1,.3zM442.4,267.3l.1-.1 .2,.1 -.2,1 -.3-.3z"/>
<path fill="#9318bb" fill-rule="evenodd" d="M326.2,213.8l.3-.5 .1,1.1 -.1,.5zM449.7,213.8l.3-.7 1.8,0 -4.4,8.7 -4.5,8 -2.6,4 -3.4,4.7 -3.2,4 -3.9,4.2 -3.3,3 -2.7,2.1 -2.6,1.7 -2.7,1.4 -3.3,1.2 -3.4,.7 -3.3,.1 -3.2-.3 3.2-.4 3.3-.7 2.7-.9 2.7-1.2 2.7-1.5 3.1-2 2.5-2 3-2.7 5.3-5.9 5.4-7.3 4.6-7.4zM326.9,215.8l.3-.6 0,1.6zM327.6,217.1l.2,0 0,1.6 -.3-.9zM328.2,219.1l.3-.1 0,1.5zM328.9,221.1l.3-.2 0,1.4zM329.5,223.1l.3-.3 0,1.3zM330.2,225.1l.3-.6 0,1.4zM331,226.5l.2-.1 0,1.2 -.2-.4zM331.6,228.5l.2-.2 0,1zM332.3,230.5l.2-.4 0,.9zM333.7,233.8l.1-.1 0,.5zM338.4,249.2l.1-.6 .1,.6 -.1,.4zM339,250.6l.2-.5 .2,1.2 -.2,.1zM339.6,251.9l.2-.3 .3,1 -.3,.4zM340.2,253.3l.3-.2 4.3,9.5 4.9,9.4 3.4,6 1.4,1.5 .2-.1 .1-.7 .4-.2 6.3,9.6 4,5.3 9.6,10.7 2.9,2.7 3.8,2.7 2.3,1.3 3.2,1.4 2.5,.7 4,.5 2.7,0 4.3-.6 2.3-.6 3.1-1.4 2.5-1.3 4.8-3.4 2.4-2 3.9-3.8 5.4-6.1 2.6-3.5 4.7-6.7 7.3-11.9 .3,.6 -2,4 -3.4,6 -3.3,5.4 -3.1,4.6 -3.5,4.7 -3.3,4 -3.7,4 -3.3,3.2 -3.3,2.7 -2.7,1.9 -3.3,1.8 -3.4,1.5 -2.6,.9 -3.4,.7 -3.3,.2 -4-.4 -3.3-.9 -3.4-1.2 -2.6-1.4 -4-2.6 -4.7-3.9 -2.1-2.4 -3.7-4.7 -5.9-8.7 -3.8-6.7 -8.5-17.1 -4.7-10.4 -.9-2.6 -.4-.6zM441.7,269.3l.1-.6 .1,.6zM441.1,270l.1-.2 .1,.2 -.1,.8 -.2-.1zM440.3,271.3l.2-.3 .2,.3 -.2,.8 -.4-.1zM354.4,278l.1-.4 0,.6z"/>
<path fill="#a918af" fill-rule="evenodd" d="M450.2,213.1l1.4,0 -3.6,7.4 -3.8,6.7 -2.8,4.6 -3.2,4.7 -2.5,3.4 -3.4,4 -3.1,3.2 -2.7,2.4 -2.7,2 -3.3,2.1 -2.7,1.3 -3.3,1.1 -2.7,.3 -.6-.4 1.3-.2 4-1.7 4.7-2.6 4.6-3.5 5.4-5.2 4-4.8 6-8.7 4.1-6.7zM439.8,272.7l0-.2 0,.4zM439,274l.2-.3 .1,.3 -.1,.3zM438.5,274.7l.2,.6 -.2,.3 -.3-.3zM437.7,276l.1-.2 .3,.2 -.1,.7 -2.7,4.7 -3.2,5.3 -4,6 -5.1,6.7 -3.5,4.1 -3,3 -5.3,4.6 -5.4,3.4 -3.3,1.5 -3.3,1.2 -2.7,.5 -2.7,.3 -2,0 -2.6-.3 -2.7-.5 -4-1.4 -2.7-1.3 -3.3-2.1 -2.7-1.9 -2.6-2.3 -3.1-3.4 -2.6-3.4 -6-8.7 -3.8-6.6 -1.9-4.1 -.7-2 .1-.5 1.3,1.2 8,10.6 3.3,3.9 4.7,4.6 3.9,4.3 3.9,3.4 4,2.6 4.2,2.1 2,.6 3.3,.7 4.7,.1 2-.1 3.2-.7 2.1-.6 2.9-1.4 4.5-2.7 2.6-2 3.1-2.6 4.9-5.1 4.7-5.7 6.2-8.7 4.5-7.1 .3-.2z"/>
<path fill="#bc1a9a" fill-rule="evenodd" d="M450.4,213.1l1,0 -3.3,6.7 -3.3,6 -5.4,8.7 -4.9,6.4 -4.7,5.2 -5.3,4.6 -2.7,1.9 -2.6,1.4 -2,.8 -.7,.1 -.5-.3 1.2-.5 3.3-2 4.7-3.3 4-3.7 4.1-4.6 4.6-6 4-6 4.7-8zM436.4,278.7l.1-.2 0,.4zM435.7,280l.1-.6 .1,.6zM435,280.7l.2-.2 .1,.2 -.1,.5zM434.3,282l.2-.4 .2,.4 -.2,.4zM355,282.7l.2-.1 .6,.8 6,7.9 4,4.7 8.1,8.1 3.9,3.4 3.9,2.6 4,2.1 4.5,1.3 4.3,.4 2,0 3.3-.4 2.8-.7 4.6-2 5.2-3.3 4.8-4 3.3-3.4 6.2-7.4 5.4-7.3 .4-.9 .6,.2 -2.5,4 -3.2,4.7 -4.6,6 -5,5.6 -5.3,4.8 -4.7,3.3 -2.6,1.5 -2.7,1.2 -4.7,1.5 -3.3,.4 -2,.1 -4.7-.6 -2.6-.7 -3.4-1.3 -4.6-2.6 -2.7-2 -3.3-2.8 -4.4-5 -3.4-4.7 -3.1-4.7 -2.1-3.3 -2.4-4.6 -.7-1.5zM433.7,282.7l.1-.2 .3,.2 -.3,.9 -.3-.2zM432.9,284l.3-.4 .3,.4 -.3,.7z"/>
<path fill="#cb277e" fill-rule="evenodd" d="M450.4,213.8l.1-.2 0,.8zM449.8,215.1l0-.2 .2,.2 -.2,.7zM449.1,216.4l.1-.2 .1,.2 -.1,.7zM448.4,217.8l.1-.3 .2,.3 -.2,.6zM447.7,219.1l.1-.3 .2,.3 -.2,.5zM447,220.5l.2-.5 .1,.5 -.1,.4zM446.3,221.8l.2-.6 .1,.6 -.1,.3zM445.8,222.5l.2,0 -.2,.9 -.2-.3zM445,223.8l.2-.2 .2,.2 -.2,.8 -.3-.1zM444.3,225.1l.2-.4 .2,.4 -.2,.7zM443.8,225.8l.5,0 -.5,1.1 -.2-.4zM443,227.2l.2-.3 .3,.3 -.3,.8 -.4-.2zM442.3,228.5l.2-.5 .3,.5 -1.6,2.8 -2.7,4 -4,5.2 -.2-.6 4.5-6.1zM433.7,240.5l.1-.1 .6,.1 -1.2,1.5 -.5-.1zM432.1,242.5l.4-.5 .2,.5 -.2,.3zM431.5,243.2l.3-.4 .3,.4 -.3,.3zM430.9,243.9l.3-.3 .2,.3 -.2,.3zM430.3,244.6l.2-.3 .3,.3 -.3,.2zM429.6,245.2l.2-.2 .3,.2 -.3,.3zM428.9,245.9l.3-.2 .2,.2 -.2,.2zM428.3,246.6l.2-.2 .2,.2 -.2,.2zM427.6,247.2l.2-.2 .2,.2 -.2,.2zM426.9,247.9l.3-.2 .1,.2 -.1,.1zM426.2,248.6l.3-.2 .1,.2zM424.4,249.9l.3,0 -.2,.1zM357.1,286.7l.1-.2 .1,.2 -.1,.2zM357.5,287.4l.3-.4 4.6,5.7 4.8,5.3 6.2,6.1 3.8,3.4 3.9,2.6 3.8,2.1 3.9,1.3 4.2,.7 4.2,0 3.9-.7 3.8-1.3 4.9-2.7 4.6-3.4 3-2.6 4.6-4.7 5.2-6.3 .3,.2 -2.3,3.4 -2.7,3.3 -4.1,4.7 -4.6,4.3 -4.6,3.6 -4.7,2.6 -4.7,1.9 -4,.8 -4.6,.1 -4.7-.8 -2-.7 -3.3-1.4 -4.7-2.8 -4-3.1 -3.7-3.8 -4.6-6 -4.4-6.8 -2-3.6zM430.4,288.1l.1-.2 .1,.2 -.1,.2zM429.7,289.4l.1-.5 .1,.5 -.1,.1zM429,290.1l.2-.3 .2,.3 -.2,.3zM428.4,290.7l.3,0 -.2,.8 -.3-.1zM427.5,292.1l.3-.5 .3,.5 -.3,.3z"/>
<path fill="#db4165" fill-rule="evenodd" d="M360.3,291.4l.2-.1 5.6,6.1 6.8,6.7 4.7,4 3,2 3.7,2.1 3.5,1.3 2.9,.7 4.5,.3 3.8-.3 2.9-.7 3.5-1.3 3.8-2 2.6-1.8 4-3.2 4.7-4.5 .5,.1 -2.9,3.3 -4.3,4.1 -4.6,3.6 -3.4,1.9 -3.3,1.6 -4,1.3 -4.7,.7 -4-.3 -4.6-1.1 -3.4-1.4 -4.6-2.7 -4-3.1 -2.8-2.6 -4.4-5.3 -3.6-5.4 -2-3.3zM423,298.1l.2-.2 .1,.2 -.1,.1zM422.3,298.8l.2-.2 .2,.2 -.2,.2zM421.7,299.4l.1-.1 .3,.1 -.3,.4zM421.1,300.1l.4,0 -.3,.5z"/>
<path fill="#f07040" fill-rule="evenodd" d="M363,295.4l.2-.3 .6,.5 9.4,9.2 4.9,4 3.1,2 2.5,1.4 3.3,1.3 2.5,.7 3,.4 3.3,.1 4-.5 2.7-.7 3.3-1.3 3.4-1.8 4.6-3.2 .4,.3 -2.4,2.1 -4,2.8 -4,2.1 -3.3,1.3 -2.7,.7 -4,.5 -2.6-.1 -3.4-.5 -4-1.3 -4-1.9 -3.3-2.1 -3.3-2.7 -2.7-2.5 -3.1-3.8 -2.9-4zM415.1,306.1l.5,0 -.4,.3zM414.3,306.8l.2-.2 .4,.2 -.4,.3z"/>
<path fill="#f89138" fill-rule="evenodd" d="M365.1,298.1l.1-.2 .1,.2zM365.5,298.8l.3-.4 .7,.5 7.8,7.2 4.4,3.4 4.5,2.7 3.1,1.3 2.2,.7 4.2,.6 4.5,0 3.3-.5 2-.6 3.3-1.2 2-1.1 .7-.2 .2,.3 -2.2,1.4 -2.7,1.4 -3.3,1.3 -3.3,.9 -2.7,.3 -2.7,0 -2.6-.4 -2.7-.6 -3.3-1.2 -2.7-1.3 -2.7-1.6 -3.3-2.5 -3.3-3 -1.3-1.4 -2.7-3.4zM408.9,310.8l.3-.1 .5,.1 -.5,.2z"/>
<path fill="#f8ab37" fill-rule="evenodd" d="M367.3,300.8l.5-.2 7,6.2 3.5,2.7 4.4,2.7 3.1,1.3 2,.7 2.7,.6 3.3,.3 4-.2 3.4-.5 1.3-.4 .7-.1 .3,.3 -4.3,1.6 -2.7,.6 -2,.2 -2,0 -2.7-.3 -4.6-1.1 -3.4-1.4 -2-1.1 -2.6-1.8 -2.7-2 -3.7-3.4 -1.7-2zM403.8,313.5l.7-.1 .3,.1z"/>
<path fill="#f8d230" fill-rule="evenodd" d="M369.1,302.8l.1-.2 .3,.2zM369.6,303.5l.2-.6 4.7,4.1 2.7,2 4,2.6 4,1.9 2.6,.9 2.7,.6 4,.3 4-.1 .7,.1 .2,.2 -3.6,.7 -4,.2 -4-.7 -4-1.3 -4-2 -3.3-2.3 -4.7-4z"/>
<path fill="#f8f238" fill-rule="evenodd" d="M373.8,307.5l.7-.1 0,.4zM374.7,308.1l.5-.1 .2,.1 -.2,.4zM375.5,308.8l.3-.2 .5,.2 -.5,.3zM376.2,309.5l.3-.4 5.3,3.2 3.4,1.6 4,1.2 4.3,.4 -.2,.7 -5.2-.7 -4.1-1.3 -4-2z"/>
</g></g>
<rect x="240.5" y="19.3" width="4.5" height="143.89999999999998" fill="url(#cb)"/>
<rect x="240.5" y="19.3" width="4.5" height="143.89999999999998" fill="none" stroke="#aaa" stroke-width="0.4"/>
<path d="M51.5,163.50H56" stroke="#333" stroke-width="0.9"/>
<text x="47.2" y="169.90" text-anchor="end" font-family="Liberation Sans, Arial, sans-serif" font-size="16" fill="#111">0</text>
<path d="M51.5,125.00H56" stroke="#333" stroke-width="0.9"/>
<text x="47.2" y="131.40" text-anchor="end" font-family="Liberation Sans, Arial, sans-serif" font-size="16" fill="#111">20</text>
<path d="M51.5,86.50H56" stroke="#333" stroke-width="0.9"/>
<text x="47.2" y="92.90" text-anchor="end" font-family="Liberation Sans, Arial, sans-serif" font-size="16" fill="#111">40</text>
<path d="M51.5,48.00H56" stroke="#333" stroke-width="0.9"/>
<text x="47.2" y="54.40" text-anchor="end" font-family="Liberation Sans, Arial, sans-serif" font-size="16" fill="#111">60</text>
<path d="M89.00,163.2V167.2" stroke="#333" stroke-width="0.9"/>
<text x="89.00" y="187.2" text-anchor="middle" font-family="Liberation Sans, Arial, sans-serif" font-size="16" fill="#111">−200</text>
<path d="M147.00,163.2V167.2" stroke="#333" stroke-width="0.9"/>
<text x="147.00" y="187.2" text-anchor="middle" font-family="Liberation Sans, Arial, sans-serif" font-size="16" fill="#111">0</text>
<path d="M205.00,163.2V167.2" stroke="#333" stroke-width="0.9"/>
<text x="205.00" y="187.2" text-anchor="middle" font-family="Liberation Sans, Arial, sans-serif" font-size="16" fill="#111">200</text>
<text x="248.5" y="45.20" font-family="Liberation Sans, Arial, sans-serif" font-size="16" fill="#111">5</text>
<text x="248.5" y="70.20" font-family="Liberation Sans, Arial, sans-serif" font-size="16" fill="#111">4</text>
<text x="248.5" y="94.45" font-family="Liberation Sans, Arial, sans-serif" font-size="16" fill="#111">3</text>
<text x="248.5" y="120.20" font-family="Liberation Sans, Arial, sans-serif" font-size="16" fill="#111">2</text>
<text x="248.5" y="144.45" font-family="Liberation Sans, Arial, sans-serif" font-size="16" fill="#111">1</text>
<text transform="translate(18.6,87.95) rotate(-90)" text-anchor="middle" font-family="Liberation Sans, Arial, sans-serif" font-size="18.8" fill="#111">f [GHz]</text>
<rect x="57.6" y="142.39999999999998" width="79" height="19.4" fill="#fff" stroke="#000" stroke-width="1"/>
<text x="61.4" y="156.59999999999997" font-family="Liberation Serif, Times New Roman, serif" font-size="14" font-weight="bold" fill="#111"><tspan font-style="italic">μ</tspan><tspan font-style="italic" font-size="10" dy="2.5">o</tspan><tspan font-style="italic" dy="-2.5" dx="0.5">H</tspan><tspan dx="6.5">= 0.5 T</tspan></text>
<rect x="503" y="19.3" width="4.5" height="143.89999999999998" fill="url(#cb)"/>
<rect x="503" y="19.3" width="4.5" height="143.89999999999998" fill="none" stroke="#aaa" stroke-width="0.4"/>
<path d="M314.0,163.50H318.5" stroke="#333" stroke-width="0.9"/>
<text x="309.7" y="169.90" text-anchor="end" font-family="Liberation Sans, Arial, sans-serif" font-size="16" fill="#111">0</text>
<path d="M314.0,125.00H318.5" stroke="#333" stroke-width="0.9"/>
<text x="309.7" y="131.40" text-anchor="end" font-family="Liberation Sans, Arial, sans-serif" font-size="16" fill="#111">20</text>
<path d="M314.0,86.50H318.5" stroke="#333" stroke-width="0.9"/>
<text x="309.7" y="92.90" text-anchor="end" font-family="Liberation Sans, Arial, sans-serif" font-size="16" fill="#111">40</text>
<path d="M314.0,48.00H318.5" stroke="#333" stroke-width="0.9"/>
<text x="309.7" y="54.40" text-anchor="end" font-family="Liberation Sans, Arial, sans-serif" font-size="16" fill="#111">60</text>
<path d="M352.00,163.2V167.2" stroke="#333" stroke-width="0.9"/>
<text x="352.00" y="187.2" text-anchor="middle" font-family="Liberation Sans, Arial, sans-serif" font-size="16" fill="#111">−200</text>
<path d="M410.00,163.2V167.2" stroke="#333" stroke-width="0.9"/>
<text x="410.00" y="187.2" text-anchor="middle" font-family="Liberation Sans, Arial, sans-serif" font-size="16" fill="#111">0</text>
<path d="M468.00,163.2V167.2" stroke="#333" stroke-width="0.9"/>
<text x="468.00" y="187.2" text-anchor="middle" font-family="Liberation Sans, Arial, sans-serif" font-size="16" fill="#111">200</text>
<text x="510.3" y="39.45" font-family="Liberation Sans, Arial, sans-serif" font-size="16" fill="#111">4</text>
<text x="510.3" y="72.70" font-family="Liberation Sans, Arial, sans-serif" font-size="16" fill="#111">3</text>
<text x="510.3" y="105.70" font-family="Liberation Sans, Arial, sans-serif" font-size="16" fill="#111">2</text>
<text x="510.3" y="138.20" font-family="Liberation Sans, Arial, sans-serif" font-size="16" fill="#111">1</text>
<rect x="320.1" y="142.39999999999998" width="79" height="19.4" fill="#fff" stroke="#000" stroke-width="1"/>
<text x="323.90000000000003" y="156.59999999999997" font-family="Liberation Serif, Times New Roman, serif" font-size="14" font-weight="bold" fill="#111"><tspan font-style="italic">μ</tspan><tspan font-style="italic" font-size="10" dy="2.5">o</tspan><tspan font-style="italic" dy="-2.5" dx="0.5">H</tspan><tspan dx="6.5">= 2.0 T</tspan></text>
<rect x="240.5" y="214" width="4.5" height="143.7" fill="url(#cb)"/>
<rect x="240.5" y="214" width="4.5" height="143.7" fill="none" stroke="#aaa" stroke-width="0.4"/>
<path d="M51.5,358.00H56" stroke="#333" stroke-width="0.9"/>
<text x="47.2" y="364.40" text-anchor="end" font-family="Liberation Sans, Arial, sans-serif" font-size="16" fill="#111">0</text>
<path d="M51.5,319.50H56" stroke="#333" stroke-width="0.9"/>
<text x="47.2" y="325.90" text-anchor="end" font-family="Liberation Sans, Arial, sans-serif" font-size="16" fill="#111">20</text>
<path d="M51.5,281.00H56" stroke="#333" stroke-width="0.9"/>
<text x="47.2" y="287.40" text-anchor="end" font-family="Liberation Sans, Arial, sans-serif" font-size="16" fill="#111">40</text>
<path d="M51.5,242.50H56" stroke="#333" stroke-width="0.9"/>
<text x="47.2" y="248.90" text-anchor="end" font-family="Liberation Sans, Arial, sans-serif" font-size="16" fill="#111">60</text>
<path d="M89.00,357.7V361.7" stroke="#333" stroke-width="0.9"/>
<text x="89.00" y="381.7" text-anchor="middle" font-family="Liberation Sans, Arial, sans-serif" font-size="16" fill="#111">−200</text>
<path d="M147.00,357.7V361.7" stroke="#333" stroke-width="0.9"/>
<text x="147.00" y="381.7" text-anchor="middle" font-family="Liberation Sans, Arial, sans-serif" font-size="16" fill="#111">0</text>
<path d="M205.00,357.7V361.7" stroke="#333" stroke-width="0.9"/>
<text x="205.00" y="381.7" text-anchor="middle" font-family="Liberation Sans, Arial, sans-serif" font-size="16" fill="#111">200</text>
<text x="248.5" y="236.70" font-family="Liberation Sans, Arial, sans-serif" font-size="16" fill="#111">1.2</text>
<text x="248.5" y="257.80" font-family="Liberation Sans, Arial, sans-serif" font-size="16" fill="#111">1</text>
<text x="248.5" y="278.60" font-family="Liberation Sans, Arial, sans-serif" font-size="16" fill="#111">0.8</text>
<text x="248.5" y="299.90" font-family="Liberation Sans, Arial, sans-serif" font-size="16" fill="#111">0.6</text>
<text x="248.5" y="321.70" font-family="Liberation Sans, Arial, sans-serif" font-size="16" fill="#111">0.4</text>
<text x="248.5" y="342.80" font-family="Liberation Sans, Arial, sans-serif" font-size="16" fill="#111">0.2</text>
<text transform="translate(18.6,282.55) rotate(-90)" text-anchor="middle" font-family="Liberation Sans, Arial, sans-serif" font-size="18.8" fill="#111">f [GHz]</text>
<text x="147.4" y="403.5" text-anchor="middle" font-family="Liberation Sans, Arial, sans-serif" font-size="21" fill="#111">k [1/µm]</text>
<rect x="57.6" y="336.9" width="79" height="19.4" fill="#fff" stroke="#000" stroke-width="1"/>
<text x="61.4" y="351.09999999999997" font-family="Liberation Serif, Times New Roman, serif" font-size="14" font-weight="bold" fill="#111"><tspan font-style="italic">μ</tspan><tspan font-style="italic" font-size="10" dy="2.5">o</tspan><tspan font-style="italic" dy="-2.5" dx="0.5">H</tspan><tspan dx="6.5">= 0.5 T</tspan></text>
<rect x="503" y="213.1" width="4.5" height="143.9" fill="url(#cb)"/>
<rect x="503" y="213.1" width="4.5" height="143.9" fill="none" stroke="#aaa" stroke-width="0.4"/>
<path d="M314.0,357.30H318.5" stroke="#333" stroke-width="0.9"/>
<text x="309.7" y="363.70" text-anchor="end" font-family="Liberation Sans, Arial, sans-serif" font-size="16" fill="#111">0</text>
<path d="M314.0,318.80H318.5" stroke="#333" stroke-width="0.9"/>
<text x="309.7" y="325.20" text-anchor="end" font-family="Liberation Sans, Arial, sans-serif" font-size="16" fill="#111">20</text>
<path d="M314.0,280.30H318.5" stroke="#333" stroke-width="0.9"/>
<text x="309.7" y="286.70" text-anchor="end" font-family="Liberation Sans, Arial, sans-serif" font-size="16" fill="#111">40</text>
<path d="M314.0,241.80H318.5" stroke="#333" stroke-width="0.9"/>
<text x="309.7" y="248.20" text-anchor="end" font-family="Liberation Sans, Arial, sans-serif" font-size="16" fill="#111">60</text>
<path d="M352.00,357.0V361.0" stroke="#333" stroke-width="0.9"/>
<text x="352.00" y="381.0" text-anchor="middle" font-family="Liberation Sans, Arial, sans-serif" font-size="16" fill="#111">−200</text>
<path d="M410.00,357.0V361.0" stroke="#333" stroke-width="0.9"/>
<text x="410.00" y="381.0" text-anchor="middle" font-family="Liberation Sans, Arial, sans-serif" font-size="16" fill="#111">0</text>
<path d="M468.00,357.0V361.0" stroke="#333" stroke-width="0.9"/>
<text x="468.00" y="381.0" text-anchor="middle" font-family="Liberation Sans, Arial, sans-serif" font-size="16" fill="#111">200</text>
<text x="510.3" y="235.50" font-family="Liberation Sans, Arial, sans-serif" font-size="16" fill="#111">6</text>
<text x="510.3" y="278.50" font-family="Liberation Sans, Arial, sans-serif" font-size="16" fill="#111">4</text>
<text x="510.3" y="321.50" font-family="Liberation Sans, Arial, sans-serif" font-size="16" fill="#111">2</text>
<text x="402.4" y="403.5" text-anchor="middle" font-family="Liberation Sans, Arial, sans-serif" font-size="21" fill="#111">k [1/µm]</text>
<rect x="320.1" y="336.2" width="79" height="19.4" fill="#fff" stroke="#000" stroke-width="1"/>
<text x="323.90000000000003" y="350.4" font-family="Liberation Serif, Times New Roman, serif" font-size="14" font-weight="bold" fill="#111"><tspan font-style="italic">μ</tspan><tspan font-style="italic" font-size="10" dy="2.5">o</tspan><tspan font-style="italic" dy="-2.5" dx="0.5">H</tspan><tspan dx="6.5">= 2.0 T</tspan></text>
<clipPath id="cle"><rect x="53.5" y="418" width="182.5" height="143.79999999999995"/></clipPath>
<g clip-path="url(#cle)">
<path d="M59.2,537.9L236.0,540.2" fill="none" stroke="#20b0c0" stroke-width="1.1" stroke-dasharray="3 1.5 1 1.5"/>
<g fill="#35a0bc">
<circle cx="59.2" cy="537.9" r="1.5"/>
<circle cx="65.0" cy="538.0" r="1.5"/>
<circle cx="70.7" cy="538.1" r="1.5"/>
<circle cx="76.4" cy="538.1" r="1.5"/>
<circle cx="82.2" cy="538.2" r="1.5"/>
<circle cx="87.9" cy="538.3" r="1.5"/>
<circle cx="93.6" cy="538.4" r="1.5"/>
<circle cx="99.4" cy="538.4" r="1.5"/>
<circle cx="105.1" cy="538.5" r="1.5"/>
<circle cx="110.8" cy="538.6" r="1.5"/>
<circle cx="116.6" cy="538.7" r="1.5"/>
<circle cx="122.3" cy="538.7" r="1.5"/>
<circle cx="128.0" cy="538.8" r="1.5"/>
<circle cx="133.8" cy="538.9" r="1.5"/>
<circle cx="139.5" cy="539.0" r="1.5"/>
<circle cx="145.2" cy="539.0" r="1.5"/>
<circle cx="151.0" cy="539.1" r="1.5"/>
<circle cx="156.7" cy="539.2" r="1.5"/>
<circle cx="162.4" cy="539.3" r="1.5"/>
<circle cx="168.2" cy="539.3" r="1.5"/>
<circle cx="173.9" cy="539.4" r="1.5"/>
<circle cx="179.6" cy="539.5" r="1.5"/>
<circle cx="185.4" cy="539.6" r="1.5"/>
<circle cx="191.1" cy="539.6" r="1.5"/>
<circle cx="196.8" cy="539.7" r="1.5"/>
<circle cx="202.6" cy="539.8" r="1.5"/>
<circle cx="208.3" cy="539.9" r="1.5"/>
<circle cx="214.0" cy="539.9" r="1.5"/>
<circle cx="219.8" cy="540.0" r="1.5"/>
<circle cx="225.5" cy="540.1" r="1.5"/>
<circle cx="231.2" cy="540.2" r="1.5"/>
</g>
<path d="M59.2,538.1L236.0,538.1" fill="none" stroke="#601050" stroke-width="1.4"/>
<g fill="#601050">
<circle cx="59.2" cy="538.1" r="1.2"/>
<circle cx="65.0" cy="538.1" r="1.2"/>
<circle cx="70.7" cy="538.1" r="1.2"/>
<circle cx="76.4" cy="538.1" r="1.2"/>
<circle cx="82.2" cy="538.1" r="1.2"/>
<circle cx="87.9" cy="538.1" r="1.2"/>
<circle cx="93.6" cy="538.1" r="1.2"/>
<circle cx="99.4" cy="538.1" r="1.2"/>
<circle cx="105.1" cy="538.1" r="1.2"/>
<circle cx="110.8" cy="538.1" r="1.2"/>
<circle cx="116.6" cy="538.1" r="1.2"/>
<circle cx="122.3" cy="538.1" r="1.2"/>
<circle cx="128.0" cy="538.1" r="1.2"/>
<circle cx="133.8" cy="538.1" r="1.2"/>
<circle cx="139.5" cy="538.1" r="1.2"/>
<circle cx="145.2" cy="538.1" r="1.2"/>
<circle cx="151.0" cy="538.1" r="1.2"/>
<circle cx="156.7" cy="538.1" r="1.2"/>
<circle cx="162.4" cy="538.1" r="1.2"/>
<circle cx="168.2" cy="538.1" r="1.2"/>
<circle cx="173.9" cy="538.1" r="1.2"/>
<circle cx="179.6" cy="538.1" r="1.2"/>
<circle cx="185.4" cy="538.1" r="1.2"/>
<circle cx="191.1" cy="538.1" r="1.2"/>
<circle cx="196.8" cy="538.1" r="1.2"/>
<circle cx="202.6" cy="538.1" r="1.2"/>
<circle cx="208.3" cy="538.1" r="1.2"/>
<circle cx="214.0" cy="538.1" r="1.2"/>
<circle cx="219.8" cy="538.1" r="1.2"/>
<circle cx="225.5" cy="538.1" r="1.2"/>
<circle cx="231.2" cy="538.1" r="1.2"/>
</g>
<path d="M59.2,537.5L236.0,535.8" fill="none" stroke="#b01030" stroke-width="2.2"/>
<g fill="#b01030">
<circle cx="59.2" cy="537.3" r="1.5"/>
<circle cx="65.0" cy="537.2" r="1.5"/>
<circle cx="70.7" cy="537.2" r="1.5"/>
<circle cx="76.4" cy="537.1" r="1.5"/>
<circle cx="82.2" cy="537.1" r="1.5"/>
<circle cx="87.9" cy="537.0" r="1.5"/>
<circle cx="93.6" cy="537.0" r="1.5"/>
<circle cx="99.4" cy="536.9" r="1.5"/>
<circle cx="105.1" cy="536.8" r="1.5"/>
<circle cx="110.8" cy="536.8" r="1.5"/>
<circle cx="116.6" cy="536.7" r="1.5"/>
<circle cx="122.3" cy="536.7" r="1.5"/>
<circle cx="128.0" cy="536.6" r="1.5"/>
<circle cx="133.8" cy="536.5" r="1.5"/>
<circle cx="139.5" cy="536.3" r="1.5"/>
<circle cx="145.2" cy="535.6" r="1.5"/>
<circle cx="151.0" cy="534.6" r="1.5"/>
<circle cx="156.7" cy="534.2" r="1.5"/>
<circle cx="162.4" cy="534.8" r="1.5"/>
<circle cx="168.2" cy="535.6" r="1.5"/>
<circle cx="173.9" cy="536.0" r="1.5"/>
<circle cx="179.6" cy="536.1" r="1.5"/>
<circle cx="185.4" cy="536.0" r="1.5"/>
<circle cx="191.1" cy="535.7" r="1.5"/>
<circle cx="196.8" cy="535.0" r="1.5"/>
<circle cx="202.6" cy="534.0" r="1.5"/>
<circle cx="208.3" cy="533.7" r="1.5"/>
<circle cx="214.0" cy="534.4" r="1.5"/>
<circle cx="219.8" cy="535.2" r="1.5"/>
<circle cx="225.5" cy="535.5" r="1.5"/>
<circle cx="231.2" cy="535.6" r="1.5"/>
</g>
<path d="M59.2,537.0L236.0,511.2" fill="none" stroke="#1030b0" stroke-width="1.0" stroke-dasharray="4 1.5 1 1.5"/>
<g fill="#0c28b0">
<circle cx="59.2" cy="537.0" r="1.6"/>
<circle cx="65.0" cy="536.2" r="1.6"/>
<circle cx="70.7" cy="535.3" r="1.6"/>
<circle cx="76.4" cy="534.5" r="1.6"/>
<circle cx="82.2" cy="533.6" r="1.6"/>
<circle cx="87.9" cy="532.8" r="1.6"/>
<circle cx="93.6" cy="532.0" r="1.6"/>
<circle cx="99.4" cy="531.1" r="1.6"/>
<circle cx="105.1" cy="530.3" r="1.6"/>
<circle cx="110.8" cy="529.5" r="1.6"/>
<circle cx="116.6" cy="528.6" r="1.6"/>
<circle cx="122.3" cy="527.8" r="1.6"/>
<circle cx="128.0" cy="526.9" r="1.6"/>
<circle cx="133.8" cy="526.1" r="1.6"/>
<circle cx="139.5" cy="525.3" r="1.6"/>
<circle cx="145.2" cy="524.4" r="1.6"/>
<circle cx="151.0" cy="523.6" r="1.6"/>
<circle cx="156.7" cy="522.8" r="1.6"/>
<circle cx="162.4" cy="521.9" r="1.6"/>
<circle cx="168.2" cy="521.1" r="1.6"/>
<circle cx="173.9" cy="520.2" r="1.6"/>
<circle cx="179.6" cy="519.4" r="1.6"/>
<circle cx="185.4" cy="518.6" r="1.6"/>
<circle cx="191.1" cy="517.7" r="1.6"/>
<circle cx="196.8" cy="516.9" r="1.6"/>
<circle cx="202.6" cy="516.1" r="1.6"/>
<circle cx="208.3" cy="515.2" r="1.6"/>
<circle cx="214.0" cy="514.4" r="1.6"/>
<circle cx="219.8" cy="513.5" r="1.6"/>
<circle cx="225.5" cy="512.7" r="1.6"/>
<circle cx="231.2" cy="511.9" r="1.6"/>
</g>
</g>
<rect x="53.5" y="418" width="182.5" height="143.79999999999995" fill="none" stroke="#707070" stroke-width="0.9"/>
<path d="M49.0,537.83H53.5" stroke="#777" stroke-width="0.9"/>
<text x="44.5" y="543.53" text-anchor="end" font-family="Liberation Sans, Arial, sans-serif" font-size="16" fill="#111">0</text>
<path d="M49.0,489.90H53.5" stroke="#777" stroke-width="0.9"/>
<text x="44.5" y="495.60" text-anchor="end" font-family="Liberation Sans, Arial, sans-serif" font-size="16" fill="#111">2</text>
<path d="M49.0,441.97H53.5" stroke="#777" stroke-width="0.9"/>
<text x="44.5" y="447.67" text-anchor="end" font-family="Liberation Sans, Arial, sans-serif" font-size="16" fill="#111">4</text>
<path d="M53.50,561.8V565.8" stroke="#777" stroke-width="0.9"/>
<text x="53.50" y="586.0999999999999" text-anchor="middle" font-family="Liberation Sans, Arial, sans-serif" font-size="17" fill="#111">0</text>
<path d="M126.50,561.8V565.8" stroke="#777" stroke-width="0.9"/>
<text x="126.50" y="586.0999999999999" text-anchor="middle" font-family="Liberation Sans, Arial, sans-serif" font-size="17" fill="#111">10</text>
<path d="M199.50,561.8V565.8" stroke="#777" stroke-width="0.9"/>
<text x="199.50" y="586.0999999999999" text-anchor="middle" font-family="Liberation Sans, Arial, sans-serif" font-size="17" fill="#111">20</text>
<text x="139.5" y="608.4" text-anchor="middle" font-family="Liberation Sans, Arial, sans-serif" font-size="21" fill="#111">k [1/µm]</text>
<text transform="translate(21.3,484.5) rotate(-90)" text-anchor="middle" font-family="Liberation Sans, Arial, sans-serif" font-size="19" fill="#111">Δf [GHz]</text>
<rect x="55.5" y="419.3" width="115.3" height="63.7" fill="#fff" stroke="#666" stroke-width="0.9"/>
<path d="M57.2,428.0H78" stroke="#b01030" stroke-width="1.8"/>
<text x="82.4" y="432.7" font-family="Liberation Sans, Arial, sans-serif" font-size="13.7" fill="#111">mode 1</text>
<path d="M57.2,443.8H78" stroke="#1030b0" stroke-width="1.8" stroke-dasharray="4 1.5 1 1.5"/>
<text x="82.4" y="448.5" font-family="Liberation Sans, Arial, sans-serif" font-size="13.7" fill="#111">mode 2</text>
<path d="M57.2,459.6H78" stroke="#601050" stroke-width="1.8"/>
<text x="82.4" y="464.3" font-family="Liberation Sans, Arial, sans-serif" font-size="13.7" fill="#111">mode 1, D = 0</text>
<path d="M57.2,475.4H78" stroke="#20b0c0" stroke-width="1.8" stroke-dasharray="3 1.5 1 1.5"/>
<text x="82.4" y="480.09999999999997" font-family="Liberation Sans, Arial, sans-serif" font-size="13.7" fill="#111">mode 2, D = 0</text>
<clipPath id="clf"><rect x="318.2" y="418" width="181.8" height="143.79999999999995"/></clipPath>
<g clip-path="url(#clf)">
<path d="M323.9,537.9L500.0,539.6" fill="none" stroke="#601050" stroke-width="1.4"/>
<g fill="#601050">
<circle cx="323.9" cy="537.9" r="1.2"/>
<circle cx="329.6" cy="537.9" r="1.2"/>
<circle cx="335.3" cy="538.0" r="1.2"/>
<circle cx="341.0" cy="538.1" r="1.2"/>
<circle cx="346.8" cy="538.1" r="1.2"/>
<circle cx="352.5" cy="538.2" r="1.2"/>
<circle cx="358.2" cy="538.2" r="1.2"/>
<circle cx="363.9" cy="538.3" r="1.2"/>
<circle cx="369.6" cy="538.3" r="1.2"/>
<circle cx="375.3" cy="538.4" r="1.2"/>
<circle cx="381.0" cy="538.5" r="1.2"/>
<circle cx="386.7" cy="538.5" r="1.2"/>
<circle cx="392.4" cy="538.6" r="1.2"/>
<circle cx="398.2" cy="538.6" r="1.2"/>
<circle cx="403.9" cy="538.7" r="1.2"/>
<circle cx="409.6" cy="538.7" r="1.2"/>
<circle cx="415.3" cy="538.8" r="1.2"/>
<circle cx="421.0" cy="538.8" r="1.2"/>
<circle cx="426.7" cy="538.9" r="1.2"/>
<circle cx="432.4" cy="539.0" r="1.2"/>
<circle cx="438.1" cy="539.0" r="1.2"/>
<circle cx="443.9" cy="539.1" r="1.2"/>
<circle cx="449.6" cy="539.1" r="1.2"/>
<circle cx="455.3" cy="539.2" r="1.2"/>
<circle cx="461.0" cy="539.2" r="1.2"/>
<circle cx="466.7" cy="539.3" r="1.2"/>
<circle cx="472.4" cy="539.4" r="1.2"/>
<circle cx="478.1" cy="539.4" r="1.2"/>
<circle cx="483.8" cy="539.5" r="1.2"/>
<circle cx="489.5" cy="539.5" r="1.2"/>
<circle cx="495.3" cy="539.6" r="1.2"/>
</g>
<path d="M323.9,537.8L500.0,536.0" fill="none" stroke="#20b0c0" stroke-width="1.1" stroke-dasharray="3 1.5 1 1.5"/>
<g fill="#35a0bc">
<circle cx="323.9" cy="537.8" r="1.5"/>
<circle cx="329.6" cy="537.7" r="1.5"/>
<circle cx="335.3" cy="537.7" r="1.5"/>
<circle cx="341.0" cy="537.6" r="1.5"/>
<circle cx="346.8" cy="537.6" r="1.5"/>
<circle cx="352.5" cy="537.5" r="1.5"/>
<circle cx="358.2" cy="537.4" r="1.5"/>
<circle cx="363.9" cy="537.4" r="1.5"/>
<circle cx="369.6" cy="537.3" r="1.5"/>
<circle cx="375.3" cy="537.3" r="1.5"/>
<circle cx="381.0" cy="537.2" r="1.5"/>
<circle cx="386.7" cy="537.2" r="1.5"/>
<circle cx="392.4" cy="537.1" r="1.5"/>
<circle cx="398.2" cy="537.0" r="1.5"/>
<circle cx="403.9" cy="537.0" r="1.5"/>
<circle cx="409.6" cy="536.9" r="1.5"/>
<circle cx="415.3" cy="536.9" r="1.5"/>
<circle cx="421.0" cy="536.8" r="1.5"/>
<circle cx="426.7" cy="536.8" r="1.5"/>
<circle cx="432.4" cy="536.7" r="1.5"/>
<circle cx="438.1" cy="536.6" r="1.5"/>
<circle cx="443.9" cy="536.6" r="1.5"/>
<circle cx="449.6" cy="536.5" r="1.5"/>
<circle cx="455.3" cy="536.5" r="1.5"/>
<circle cx="461.0" cy="536.4" r="1.5"/>
<circle cx="466.7" cy="536.4" r="1.5"/>
<circle cx="472.4" cy="536.3" r="1.5"/>
<circle cx="478.1" cy="536.3" r="1.5"/>
<circle cx="483.8" cy="536.2" r="1.5"/>
<circle cx="489.5" cy="536.1" r="1.5"/>
<circle cx="495.3" cy="536.1" r="1.5"/>
</g>
<path d="M323.9,537.1L500.0,514.5" fill="none" stroke="#1030b0" stroke-width="1.0" stroke-dasharray="4 1.5 1 1.5"/>
<g fill="#0c28b0">
<circle cx="323.9" cy="537.1" r="1.6"/>
<circle cx="329.6" cy="536.4" r="1.6"/>
<circle cx="335.3" cy="535.6" r="1.6"/>
<circle cx="341.0" cy="534.9" r="1.6"/>
<circle cx="346.8" cy="534.2" r="1.6"/>
<circle cx="352.5" cy="533.4" r="1.6"/>
<circle cx="358.2" cy="532.7" r="1.6"/>
<circle cx="363.9" cy="532.0" r="1.6"/>
<circle cx="369.6" cy="531.2" r="1.6"/>
<circle cx="375.3" cy="530.5" r="1.6"/>
<circle cx="381.0" cy="529.8" r="1.6"/>
<circle cx="386.7" cy="529.0" r="1.6"/>
<circle cx="392.4" cy="528.3" r="1.6"/>
<circle cx="398.2" cy="527.6" r="1.6"/>
<circle cx="403.9" cy="526.8" r="1.6"/>
<circle cx="409.6" cy="526.1" r="1.6"/>
<circle cx="415.3" cy="525.4" r="1.6"/>
<circle cx="421.0" cy="524.6" r="1.6"/>
<circle cx="426.7" cy="523.9" r="1.6"/>
<circle cx="432.4" cy="523.2" r="1.6"/>
<circle cx="438.1" cy="522.4" r="1.6"/>
<circle cx="443.9" cy="521.7" r="1.6"/>
<circle cx="449.6" cy="520.9" r="1.6"/>
<circle cx="455.3" cy="520.2" r="1.6"/>
<circle cx="461.0" cy="519.5" r="1.6"/>
<circle cx="466.7" cy="518.7" r="1.6"/>
<circle cx="472.4" cy="518.0" r="1.6"/>
<circle cx="478.1" cy="517.3" r="1.6"/>
<circle cx="483.8" cy="516.5" r="1.6"/>
<circle cx="489.5" cy="515.8" r="1.6"/>
<circle cx="495.3" cy="515.1" r="1.6"/>
</g>
<path d="M323.9,534.1L500.0,419.2" fill="none" stroke="#b01030" stroke-width="2.3"/>
<g fill="#8a0c24">
<circle cx="323.9" cy="534.1" r="1.9"/>
<circle cx="329.6" cy="530.4" r="1.9"/>
<circle cx="335.3" cy="526.7" r="1.9"/>
<circle cx="341.0" cy="522.9" r="1.9"/>
<circle cx="346.8" cy="519.2" r="1.9"/>
<circle cx="352.5" cy="515.5" r="1.9"/>
<circle cx="358.2" cy="511.7" r="1.9"/>
<circle cx="363.9" cy="508.0" r="1.9"/>
<circle cx="369.6" cy="504.3" r="1.9"/>
<circle cx="375.3" cy="500.6" r="1.9"/>
<circle cx="381.0" cy="496.8" r="1.9"/>
<circle cx="386.7" cy="493.1" r="1.9"/>
<circle cx="392.4" cy="489.4" r="1.9"/>
<circle cx="398.2" cy="485.7" r="1.9"/>
<circle cx="403.9" cy="481.9" r="1.9"/>
<circle cx="409.6" cy="478.2" r="1.9"/>
<circle cx="415.3" cy="474.5" r="1.9"/>
<circle cx="421.0" cy="470.7" r="1.9"/>
<circle cx="426.7" cy="467.0" r="1.9"/>
<circle cx="432.4" cy="463.3" r="1.9"/>
<circle cx="438.1" cy="459.6" r="1.9"/>
<circle cx="443.9" cy="455.8" r="1.9"/>
<circle cx="449.6" cy="452.1" r="1.9"/>
<circle cx="455.3" cy="448.4" r="1.9"/>
<circle cx="461.0" cy="444.7" r="1.9"/>
<circle cx="466.7" cy="440.9" r="1.9"/>
<circle cx="472.4" cy="437.2" r="1.9"/>
<circle cx="478.1" cy="433.5" r="1.9"/>
<circle cx="483.8" cy="429.7" r="1.9"/>
<circle cx="489.5" cy="426.0" r="1.9"/>
<circle cx="495.3" cy="422.3" r="1.9"/>
</g>
</g>
<rect x="318.2" y="418" width="181.8" height="143.79999999999995" fill="none" stroke="#707070" stroke-width="0.9"/>
<path d="M313.7,537.83H318.2" stroke="#777" stroke-width="0.9"/>
<text x="309.2" y="543.53" text-anchor="end" font-family="Liberation Sans, Arial, sans-serif" font-size="16" fill="#111">0</text>
<path d="M313.7,489.90H318.2" stroke="#777" stroke-width="0.9"/>
<text x="309.2" y="495.60" text-anchor="end" font-family="Liberation Sans, Arial, sans-serif" font-size="16" fill="#111">2</text>
<path d="M313.7,441.97H318.2" stroke="#777" stroke-width="0.9"/>
<text x="309.2" y="447.67" text-anchor="end" font-family="Liberation Sans, Arial, sans-serif" font-size="16" fill="#111">4</text>
<path d="M318.20,561.8V565.8" stroke="#777" stroke-width="0.9"/>
<text x="318.20" y="586.0999999999999" text-anchor="middle" font-family="Liberation Sans, Arial, sans-serif" font-size="17" fill="#111">0</text>
<path d="M390.92,561.8V565.8" stroke="#777" stroke-width="0.9"/>
<text x="390.92" y="586.0999999999999" text-anchor="middle" font-family="Liberation Sans, Arial, sans-serif" font-size="17" fill="#111">10</text>
<path d="M463.64,561.8V565.8" stroke="#777" stroke-width="0.9"/>
<text x="463.64" y="586.0999999999999" text-anchor="middle" font-family="Liberation Sans, Arial, sans-serif" font-size="17" fill="#111">20</text>
<text x="402.4" y="608.4" text-anchor="middle" font-family="Liberation Sans, Arial, sans-serif" font-size="21" fill="#111">k [1/µm]</text>
<text x="0.1" y="19.4" font-family="Liberation Sans, Arial, sans-serif" font-size="23" textLength="27.8" lengthAdjust="spacingAndGlyphs" fill="#000" stroke="#000" stroke-width="0.45">(a)</text>
<text x="265.0" y="19.4" font-family="Liberation Sans, Arial, sans-serif" font-size="23" textLength="29.5" lengthAdjust="spacingAndGlyphs" fill="#000" stroke="#000" stroke-width="0.45">(b)</text>
<text x="0.8" y="217.8" font-family="Liberation Sans, Arial, sans-serif" font-size="23" textLength="26.3" lengthAdjust="spacingAndGlyphs" fill="#000" stroke="#000" stroke-width="0.45">(c)</text>
<text x="265.4" y="217.5" font-family="Liberation Sans, Arial, sans-serif" font-size="23" textLength="29.7" lengthAdjust="spacingAndGlyphs" fill="#000" stroke="#000" stroke-width="0.45">(d)</text>
<text x="0.1" y="412.5" font-family="Liberation Sans, Arial, sans-serif" font-size="23" textLength="28.1" lengthAdjust="spacingAndGlyphs" fill="#000" stroke="#000" stroke-width="0.45">(e)</text>
<text x="268.2" y="412.5" font-family="Liberation Sans, Arial, sans-serif" font-size="23" textLength="24.3" lengthAdjust="spacingAndGlyphs" fill="#000" stroke="#000" stroke-width="0.45">(f)</text>
</svg>
</body></html>
